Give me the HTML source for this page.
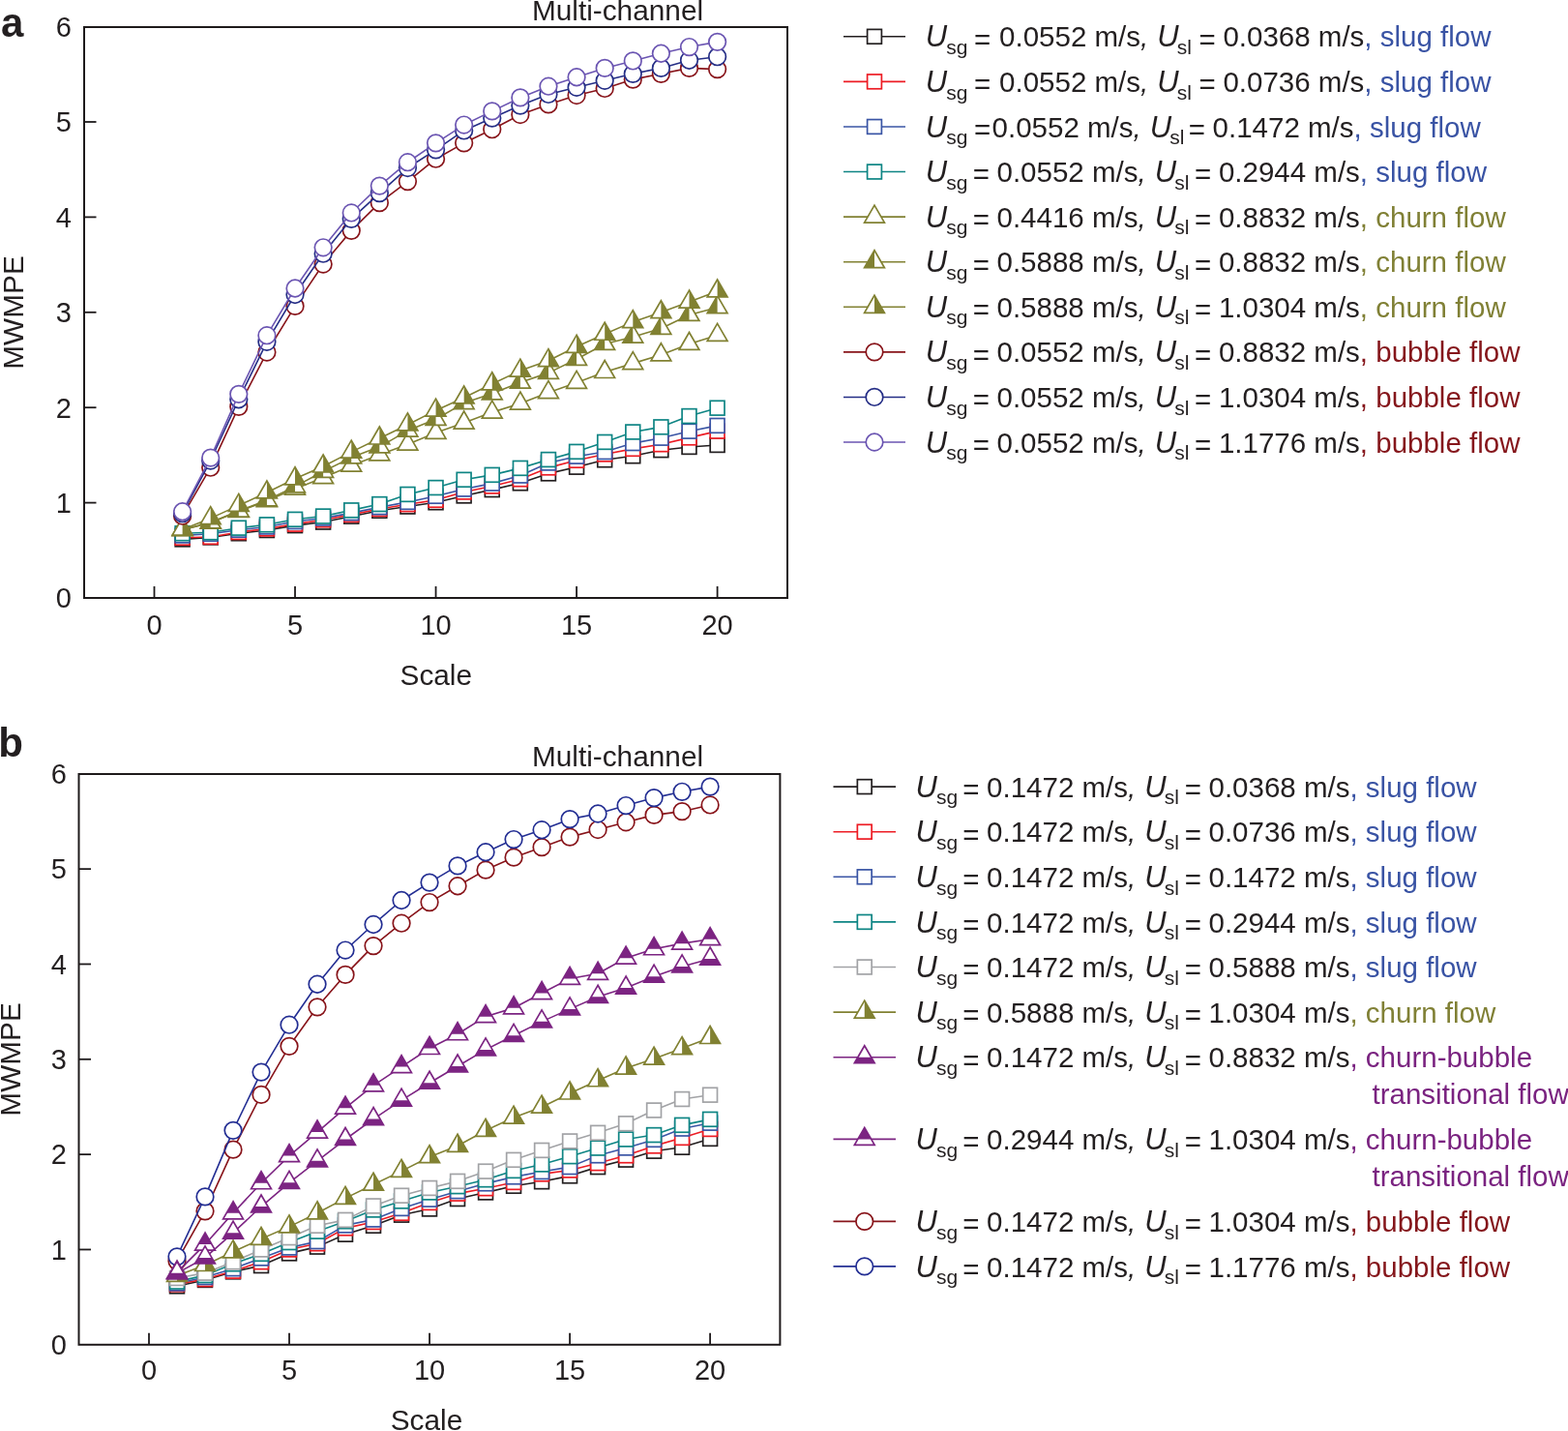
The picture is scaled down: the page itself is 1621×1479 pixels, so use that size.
<!DOCTYPE html>
<html><head><meta charset="utf-8"><title>MWMPE multi-channel</title>
<style>
html,body{margin:0;padding:0;background:#fff;}
svg{display:block;}
.t{font-family:'Liberation Sans', Arial, Helvetica, sans-serif;font-size:29px;fill:#231f20;}
.tl{font-family:'Liberation Sans', Arial, Helvetica, sans-serif;font-size:29.5px;fill:#231f20;}
.tx{font-family:'Liberation Sans', Arial, Helvetica, sans-serif;font-size:29.8px;fill:#231f20;}
.lt{font-family:'Liberation Sans', Arial, Helvetica, sans-serif;font-size:42px;font-weight:bold;fill:#231f20;}
</style></head>
<body>
<svg width="1621" height="1479" viewBox="0 0 1621 1479">
<rect width="1621" height="1479" fill="#fff"/>
<rect x="87.0" y="28.0" width="727" height="590" fill="none" stroke="#1e1a1b" stroke-width="2"/>
<line x1="87.0" y1="519.6" x2="99.5" y2="519.6" stroke="#1e1a1b" stroke-width="1.8"/>
<line x1="87.0" y1="421.2" x2="99.5" y2="421.2" stroke="#1e1a1b" stroke-width="1.8"/>
<line x1="87.0" y1="322.8" x2="99.5" y2="322.8" stroke="#1e1a1b" stroke-width="1.8"/>
<line x1="87.0" y1="224.4" x2="99.5" y2="224.4" stroke="#1e1a1b" stroke-width="1.8"/>
<line x1="87.0" y1="126" x2="99.5" y2="126" stroke="#1e1a1b" stroke-width="1.8"/>
<line x1="159.5" y1="618.0" x2="159.5" y2="606" stroke="#1e1a1b" stroke-width="1.8"/>
<line x1="305.02" y1="618.0" x2="305.02" y2="606" stroke="#1e1a1b" stroke-width="1.8"/>
<line x1="450.55" y1="618.0" x2="450.55" y2="606" stroke="#1e1a1b" stroke-width="1.8"/>
<line x1="596.08" y1="618.0" x2="596.08" y2="606" stroke="#1e1a1b" stroke-width="1.8"/>
<line x1="741.6" y1="618.0" x2="741.6" y2="606" stroke="#1e1a1b" stroke-width="1.8"/>
<text x="74.0" y="628.3" text-anchor="end" class="t">0</text>
<text x="74.0" y="529.9" text-anchor="end" class="t">1</text>
<text x="74.0" y="431.5" text-anchor="end" class="t">2</text>
<text x="74.0" y="333.1" text-anchor="end" class="t">3</text>
<text x="74.0" y="234.7" text-anchor="end" class="t">4</text>
<text x="74.0" y="136.3" text-anchor="end" class="t">5</text>
<text x="74.0" y="37.9" text-anchor="end" class="t">6</text>
<text x="159.5" y="655.9" text-anchor="middle" class="t">0</text>
<text x="305.02" y="655.9" text-anchor="middle" class="t">5</text>
<text x="450.55" y="655.9" text-anchor="middle" class="t">10</text>
<text x="596.08" y="655.9" text-anchor="middle" class="t">15</text>
<text x="741.6" y="655.9" text-anchor="middle" class="t">20</text>
<text x="450.8" y="707.8" text-anchor="middle" class="tx">Scale</text>
<text transform="translate(24.4,323) rotate(-90)" text-anchor="middle" class="tx">MWMPE</text>
<text x="638.5" y="21.2" text-anchor="middle" class="tx">Multi-channel</text>
<text x="1" y="37.6" class="lt">a</text>
<polyline points="188.6,557.39 217.71,555.42 246.81,551.28 275.92,548.04 305.02,543.12 334.13,539.58 363.24,533.67 392.34,527.77 421.44,523.54 450.55,519.3 479.66,512.42 508.76,506.12 537.87,499.33 566.97,489.39 596.08,482.7 625.18,475.32 654.29,471.29 683.39,465.18 712.5,461.94 741.6,459.97" fill="none" stroke="#231f20" stroke-width="1.6" stroke-linejoin="round"/>
<rect x="181.2" y="549.99" width="14.8" height="14.8" fill="#fff" stroke="#231f20" stroke-width="1.7"/>
<rect x="210.31" y="548.02" width="14.8" height="14.8" fill="#fff" stroke="#231f20" stroke-width="1.7"/>
<rect x="239.41" y="543.88" width="14.8" height="14.8" fill="#fff" stroke="#231f20" stroke-width="1.7"/>
<rect x="268.52" y="540.64" width="14.8" height="14.8" fill="#fff" stroke="#231f20" stroke-width="1.7"/>
<rect x="297.62" y="535.72" width="14.8" height="14.8" fill="#fff" stroke="#231f20" stroke-width="1.7"/>
<rect x="326.73" y="532.18" width="14.8" height="14.8" fill="#fff" stroke="#231f20" stroke-width="1.7"/>
<rect x="355.84" y="526.27" width="14.8" height="14.8" fill="#fff" stroke="#231f20" stroke-width="1.7"/>
<rect x="384.94" y="520.37" width="14.8" height="14.8" fill="#fff" stroke="#231f20" stroke-width="1.7"/>
<rect x="414.05" y="516.14" width="14.8" height="14.8" fill="#fff" stroke="#231f20" stroke-width="1.7"/>
<rect x="443.15" y="511.9" width="14.8" height="14.8" fill="#fff" stroke="#231f20" stroke-width="1.7"/>
<rect x="472.26" y="505.02" width="14.8" height="14.8" fill="#fff" stroke="#231f20" stroke-width="1.7"/>
<rect x="501.36" y="498.72" width="14.8" height="14.8" fill="#fff" stroke="#231f20" stroke-width="1.7"/>
<rect x="530.47" y="491.93" width="14.8" height="14.8" fill="#fff" stroke="#231f20" stroke-width="1.7"/>
<rect x="559.57" y="481.99" width="14.8" height="14.8" fill="#fff" stroke="#231f20" stroke-width="1.7"/>
<rect x="588.68" y="475.3" width="14.8" height="14.8" fill="#fff" stroke="#231f20" stroke-width="1.7"/>
<rect x="617.78" y="467.92" width="14.8" height="14.8" fill="#fff" stroke="#231f20" stroke-width="1.7"/>
<rect x="646.89" y="463.89" width="14.8" height="14.8" fill="#fff" stroke="#231f20" stroke-width="1.7"/>
<rect x="675.99" y="457.78" width="14.8" height="14.8" fill="#fff" stroke="#231f20" stroke-width="1.7"/>
<rect x="705.1" y="454.54" width="14.8" height="14.8" fill="#fff" stroke="#231f20" stroke-width="1.7"/>
<rect x="734.2" y="452.57" width="14.8" height="14.8" fill="#fff" stroke="#231f20" stroke-width="1.7"/>
<polyline points="188.6,555.81 217.71,554.93 246.81,550.01 275.92,546.46 305.02,541.64 334.13,537.31 363.24,531.9 392.34,526 421.44,521.17 450.55,516.84 479.66,508.48 508.76,502.48 537.87,495.3 566.97,483.39 596.08,475.81 625.18,469.42 654.29,463.91 683.39,459.28 712.5,452.39 741.6,445.6" fill="none" stroke="#ed1c24" stroke-width="1.6" stroke-linejoin="round"/>
<rect x="181.2" y="548.41" width="14.8" height="14.8" fill="#fff" stroke="#ed1c24" stroke-width="1.7"/>
<rect x="210.31" y="547.53" width="14.8" height="14.8" fill="#fff" stroke="#ed1c24" stroke-width="1.7"/>
<rect x="239.41" y="542.61" width="14.8" height="14.8" fill="#fff" stroke="#ed1c24" stroke-width="1.7"/>
<rect x="268.52" y="539.06" width="14.8" height="14.8" fill="#fff" stroke="#ed1c24" stroke-width="1.7"/>
<rect x="297.62" y="534.24" width="14.8" height="14.8" fill="#fff" stroke="#ed1c24" stroke-width="1.7"/>
<rect x="326.73" y="529.91" width="14.8" height="14.8" fill="#fff" stroke="#ed1c24" stroke-width="1.7"/>
<rect x="355.84" y="524.5" width="14.8" height="14.8" fill="#fff" stroke="#ed1c24" stroke-width="1.7"/>
<rect x="384.94" y="518.6" width="14.8" height="14.8" fill="#fff" stroke="#ed1c24" stroke-width="1.7"/>
<rect x="414.05" y="513.77" width="14.8" height="14.8" fill="#fff" stroke="#ed1c24" stroke-width="1.7"/>
<rect x="443.15" y="509.44" width="14.8" height="14.8" fill="#fff" stroke="#ed1c24" stroke-width="1.7"/>
<rect x="472.26" y="501.08" width="14.8" height="14.8" fill="#fff" stroke="#ed1c24" stroke-width="1.7"/>
<rect x="501.36" y="495.08" width="14.8" height="14.8" fill="#fff" stroke="#ed1c24" stroke-width="1.7"/>
<rect x="530.47" y="487.9" width="14.8" height="14.8" fill="#fff" stroke="#ed1c24" stroke-width="1.7"/>
<rect x="559.57" y="475.99" width="14.8" height="14.8" fill="#fff" stroke="#ed1c24" stroke-width="1.7"/>
<rect x="588.68" y="468.41" width="14.8" height="14.8" fill="#fff" stroke="#ed1c24" stroke-width="1.7"/>
<rect x="617.78" y="462.02" width="14.8" height="14.8" fill="#fff" stroke="#ed1c24" stroke-width="1.7"/>
<rect x="646.89" y="456.51" width="14.8" height="14.8" fill="#fff" stroke="#ed1c24" stroke-width="1.7"/>
<rect x="675.99" y="451.88" width="14.8" height="14.8" fill="#fff" stroke="#ed1c24" stroke-width="1.7"/>
<rect x="705.1" y="444.99" width="14.8" height="14.8" fill="#fff" stroke="#ed1c24" stroke-width="1.7"/>
<rect x="734.2" y="438.2" width="14.8" height="14.8" fill="#fff" stroke="#ed1c24" stroke-width="1.7"/>
<polyline points="188.6,553.45 217.71,551.78 246.81,547.74 275.92,544.5 305.02,539.08 334.13,535.54 363.24,530.13 392.34,524.22 421.44,518.91 450.55,512.81 479.66,505.53 508.76,499.62 537.87,491.56 566.97,478.47 596.08,471.68 625.18,467.05 654.29,458.1 683.39,452.69 712.5,445.7 741.6,439.9" fill="none" stroke="#3a55a5" stroke-width="1.6" stroke-linejoin="round"/>
<rect x="181.2" y="546.05" width="14.8" height="14.8" fill="#fff" stroke="#3a55a5" stroke-width="1.7"/>
<rect x="210.31" y="544.38" width="14.8" height="14.8" fill="#fff" stroke="#3a55a5" stroke-width="1.7"/>
<rect x="239.41" y="540.34" width="14.8" height="14.8" fill="#fff" stroke="#3a55a5" stroke-width="1.7"/>
<rect x="268.52" y="537.1" width="14.8" height="14.8" fill="#fff" stroke="#3a55a5" stroke-width="1.7"/>
<rect x="297.62" y="531.68" width="14.8" height="14.8" fill="#fff" stroke="#3a55a5" stroke-width="1.7"/>
<rect x="326.73" y="528.14" width="14.8" height="14.8" fill="#fff" stroke="#3a55a5" stroke-width="1.7"/>
<rect x="355.84" y="522.73" width="14.8" height="14.8" fill="#fff" stroke="#3a55a5" stroke-width="1.7"/>
<rect x="384.94" y="516.82" width="14.8" height="14.8" fill="#fff" stroke="#3a55a5" stroke-width="1.7"/>
<rect x="414.05" y="511.51" width="14.8" height="14.8" fill="#fff" stroke="#3a55a5" stroke-width="1.7"/>
<rect x="443.15" y="505.41" width="14.8" height="14.8" fill="#fff" stroke="#3a55a5" stroke-width="1.7"/>
<rect x="472.26" y="498.13" width="14.8" height="14.8" fill="#fff" stroke="#3a55a5" stroke-width="1.7"/>
<rect x="501.36" y="492.22" width="14.8" height="14.8" fill="#fff" stroke="#3a55a5" stroke-width="1.7"/>
<rect x="530.47" y="484.16" width="14.8" height="14.8" fill="#fff" stroke="#3a55a5" stroke-width="1.7"/>
<rect x="559.57" y="471.07" width="14.8" height="14.8" fill="#fff" stroke="#3a55a5" stroke-width="1.7"/>
<rect x="588.68" y="464.28" width="14.8" height="14.8" fill="#fff" stroke="#3a55a5" stroke-width="1.7"/>
<rect x="617.78" y="459.65" width="14.8" height="14.8" fill="#fff" stroke="#3a55a5" stroke-width="1.7"/>
<rect x="646.89" y="450.7" width="14.8" height="14.8" fill="#fff" stroke="#3a55a5" stroke-width="1.7"/>
<rect x="675.99" y="445.29" width="14.8" height="14.8" fill="#fff" stroke="#3a55a5" stroke-width="1.7"/>
<rect x="705.1" y="438.3" width="14.8" height="14.8" fill="#fff" stroke="#3a55a5" stroke-width="1.7"/>
<rect x="734.2" y="432.5" width="14.8" height="14.8" fill="#fff" stroke="#3a55a5" stroke-width="1.7"/>
<polyline points="188.6,551.28 217.71,550.3 246.81,545.68 275.92,542.33 305.02,536.82 334.13,533.57 363.24,527.37 392.34,521.08 421.44,510.94 450.55,504.05 479.66,495.79 508.76,490.87 537.87,483.88 566.97,475.02 596.08,466.86 625.18,456.92 654.29,446.49 683.39,441.37 712.5,430.06 741.6,421.69" fill="none" stroke="#0e8584" stroke-width="1.6" stroke-linejoin="round"/>
<rect x="181.2" y="543.88" width="14.8" height="14.8" fill="#fff" stroke="#0e8584" stroke-width="1.7"/>
<rect x="210.31" y="542.9" width="14.8" height="14.8" fill="#fff" stroke="#0e8584" stroke-width="1.7"/>
<rect x="239.41" y="538.28" width="14.8" height="14.8" fill="#fff" stroke="#0e8584" stroke-width="1.7"/>
<rect x="268.52" y="534.93" width="14.8" height="14.8" fill="#fff" stroke="#0e8584" stroke-width="1.7"/>
<rect x="297.62" y="529.42" width="14.8" height="14.8" fill="#fff" stroke="#0e8584" stroke-width="1.7"/>
<rect x="326.73" y="526.17" width="14.8" height="14.8" fill="#fff" stroke="#0e8584" stroke-width="1.7"/>
<rect x="355.84" y="519.97" width="14.8" height="14.8" fill="#fff" stroke="#0e8584" stroke-width="1.7"/>
<rect x="384.94" y="513.68" width="14.8" height="14.8" fill="#fff" stroke="#0e8584" stroke-width="1.7"/>
<rect x="414.05" y="503.54" width="14.8" height="14.8" fill="#fff" stroke="#0e8584" stroke-width="1.7"/>
<rect x="443.15" y="496.65" width="14.8" height="14.8" fill="#fff" stroke="#0e8584" stroke-width="1.7"/>
<rect x="472.26" y="488.39" width="14.8" height="14.8" fill="#fff" stroke="#0e8584" stroke-width="1.7"/>
<rect x="501.36" y="483.47" width="14.8" height="14.8" fill="#fff" stroke="#0e8584" stroke-width="1.7"/>
<rect x="530.47" y="476.48" width="14.8" height="14.8" fill="#fff" stroke="#0e8584" stroke-width="1.7"/>
<rect x="559.57" y="467.62" width="14.8" height="14.8" fill="#fff" stroke="#0e8584" stroke-width="1.7"/>
<rect x="588.68" y="459.46" width="14.8" height="14.8" fill="#fff" stroke="#0e8584" stroke-width="1.7"/>
<rect x="617.78" y="449.52" width="14.8" height="14.8" fill="#fff" stroke="#0e8584" stroke-width="1.7"/>
<rect x="646.89" y="439.09" width="14.8" height="14.8" fill="#fff" stroke="#0e8584" stroke-width="1.7"/>
<rect x="675.99" y="433.97" width="14.8" height="14.8" fill="#fff" stroke="#0e8584" stroke-width="1.7"/>
<rect x="705.1" y="422.66" width="14.8" height="14.8" fill="#fff" stroke="#0e8584" stroke-width="1.7"/>
<rect x="734.2" y="414.29" width="14.8" height="14.8" fill="#fff" stroke="#0e8584" stroke-width="1.7"/>
<polyline points="188.6,547.64 217.71,540.26 246.81,528.46 275.92,517.63 305.02,505.14 334.13,493.72 363.24,481.22 392.34,469.91 421.44,459.18 450.55,447.28 479.66,437.04 508.76,426.12 537.87,417.07 566.97,405.65 596.08,395.42 625.18,384.5 654.29,375.64 683.39,366.78 712.5,355.47 741.6,346.42" fill="none" stroke="#818132" stroke-width="1.6" stroke-linejoin="round"/>
<polygon points="188.6,535.64 178.2,553.64 199,553.64" fill="#fff"/><polygon points="188.6,535.64 178.2,553.64 199,553.64" fill="none" stroke="#818132" stroke-width="1.7" stroke-linejoin="miter"/>
<polygon points="217.71,528.26 207.31,546.26 228.11,546.26" fill="#fff"/><polygon points="217.71,528.26 207.31,546.26 228.11,546.26" fill="none" stroke="#818132" stroke-width="1.7" stroke-linejoin="miter"/>
<polygon points="246.81,516.46 236.41,534.46 257.21,534.46" fill="#fff"/><polygon points="246.81,516.46 236.41,534.46 257.21,534.46" fill="none" stroke="#818132" stroke-width="1.7" stroke-linejoin="miter"/>
<polygon points="275.92,505.63 265.52,523.63 286.32,523.63" fill="#fff"/><polygon points="275.92,505.63 265.52,523.63 286.32,523.63" fill="none" stroke="#818132" stroke-width="1.7" stroke-linejoin="miter"/>
<polygon points="305.02,493.14 294.62,511.14 315.42,511.14" fill="#fff"/><polygon points="305.02,493.14 294.62,511.14 315.42,511.14" fill="none" stroke="#818132" stroke-width="1.7" stroke-linejoin="miter"/>
<polygon points="334.13,481.72 323.73,499.72 344.53,499.72" fill="#fff"/><polygon points="334.13,481.72 323.73,499.72 344.53,499.72" fill="none" stroke="#818132" stroke-width="1.7" stroke-linejoin="miter"/>
<polygon points="363.24,469.22 352.84,487.22 373.63,487.22" fill="#fff"/><polygon points="363.24,469.22 352.84,487.22 373.63,487.22" fill="none" stroke="#818132" stroke-width="1.7" stroke-linejoin="miter"/>
<polygon points="392.34,457.91 381.94,475.91 402.74,475.91" fill="#fff"/><polygon points="392.34,457.91 381.94,475.91 402.74,475.91" fill="none" stroke="#818132" stroke-width="1.7" stroke-linejoin="miter"/>
<polygon points="421.44,447.18 411.05,465.18 431.84,465.18" fill="#fff"/><polygon points="421.44,447.18 411.05,465.18 431.84,465.18" fill="none" stroke="#818132" stroke-width="1.7" stroke-linejoin="miter"/>
<polygon points="450.55,435.28 440.15,453.28 460.95,453.28" fill="#fff"/><polygon points="450.55,435.28 440.15,453.28 460.95,453.28" fill="none" stroke="#818132" stroke-width="1.7" stroke-linejoin="miter"/>
<polygon points="479.66,425.04 469.26,443.04 490.06,443.04" fill="#fff"/><polygon points="479.66,425.04 469.26,443.04 490.06,443.04" fill="none" stroke="#818132" stroke-width="1.7" stroke-linejoin="miter"/>
<polygon points="508.76,414.12 498.36,432.12 519.16,432.12" fill="#fff"/><polygon points="508.76,414.12 498.36,432.12 519.16,432.12" fill="none" stroke="#818132" stroke-width="1.7" stroke-linejoin="miter"/>
<polygon points="537.87,405.07 527.47,423.07 548.26,423.07" fill="#fff"/><polygon points="537.87,405.07 527.47,423.07 548.26,423.07" fill="none" stroke="#818132" stroke-width="1.7" stroke-linejoin="miter"/>
<polygon points="566.97,393.65 556.57,411.65 577.37,411.65" fill="#fff"/><polygon points="566.97,393.65 556.57,411.65 577.37,411.65" fill="none" stroke="#818132" stroke-width="1.7" stroke-linejoin="miter"/>
<polygon points="596.08,383.42 585.68,401.42 606.48,401.42" fill="#fff"/><polygon points="596.08,383.42 585.68,401.42 606.48,401.42" fill="none" stroke="#818132" stroke-width="1.7" stroke-linejoin="miter"/>
<polygon points="625.18,372.5 614.78,390.5 635.58,390.5" fill="#fff"/><polygon points="625.18,372.5 614.78,390.5 635.58,390.5" fill="none" stroke="#818132" stroke-width="1.7" stroke-linejoin="miter"/>
<polygon points="654.29,363.64 643.89,381.64 664.69,381.64" fill="#fff"/><polygon points="654.29,363.64 643.89,381.64 664.69,381.64" fill="none" stroke="#818132" stroke-width="1.7" stroke-linejoin="miter"/>
<polygon points="683.39,354.78 672.99,372.78 693.79,372.78" fill="#fff"/><polygon points="683.39,354.78 672.99,372.78 693.79,372.78" fill="none" stroke="#818132" stroke-width="1.7" stroke-linejoin="miter"/>
<polygon points="712.5,343.47 702.1,361.47 722.89,361.47" fill="#fff"/><polygon points="712.5,343.47 702.1,361.47 722.89,361.47" fill="none" stroke="#818132" stroke-width="1.7" stroke-linejoin="miter"/>
<polygon points="741.6,334.42 731.2,352.42 752,352.42" fill="#fff"/><polygon points="741.6,334.42 731.2,352.42 752,352.42" fill="none" stroke="#818132" stroke-width="1.7" stroke-linejoin="miter"/>
<polyline points="188.6,547.45 217.71,539.97 246.81,528.06 275.92,516.94 305.02,502.87 334.13,487.32 363.24,472.86 392.34,461.84 421.44,445.11 450.55,433.3 479.66,416.58 508.76,406.83 537.87,395.22 566.97,385.38 596.08,371.31 625.18,355.47 654.29,348.19 683.39,339.43 712.5,325.46 741.6,317.68" fill="none" stroke="#818132" stroke-width="1.6" stroke-linejoin="round"/>
<polygon points="188.6,535.45 178.2,553.45 199,553.45" fill="#fff"/><polygon points="188.6,535.45 178.2,553.45 188.6,553.45" fill="#818132"/><polygon points="188.6,535.45 178.2,553.45 199,553.45" fill="none" stroke="#818132" stroke-width="1.7" stroke-linejoin="miter"/>
<polygon points="217.71,527.97 207.31,545.97 228.11,545.97" fill="#fff"/><polygon points="217.71,527.97 207.31,545.97 217.71,545.97" fill="#818132"/><polygon points="217.71,527.97 207.31,545.97 228.11,545.97" fill="none" stroke="#818132" stroke-width="1.7" stroke-linejoin="miter"/>
<polygon points="246.81,516.06 236.41,534.06 257.21,534.06" fill="#fff"/><polygon points="246.81,516.06 236.41,534.06 246.81,534.06" fill="#818132"/><polygon points="246.81,516.06 236.41,534.06 257.21,534.06" fill="none" stroke="#818132" stroke-width="1.7" stroke-linejoin="miter"/>
<polygon points="275.92,504.94 265.52,522.94 286.32,522.94" fill="#fff"/><polygon points="275.92,504.94 265.52,522.94 275.92,522.94" fill="#818132"/><polygon points="275.92,504.94 265.52,522.94 286.32,522.94" fill="none" stroke="#818132" stroke-width="1.7" stroke-linejoin="miter"/>
<polygon points="305.02,490.87 294.62,508.87 315.42,508.87" fill="#fff"/><polygon points="305.02,490.87 294.62,508.87 305.02,508.87" fill="#818132"/><polygon points="305.02,490.87 294.62,508.87 315.42,508.87" fill="none" stroke="#818132" stroke-width="1.7" stroke-linejoin="miter"/>
<polygon points="334.13,475.32 323.73,493.32 344.53,493.32" fill="#fff"/><polygon points="334.13,475.32 323.73,493.32 334.13,493.32" fill="#818132"/><polygon points="334.13,475.32 323.73,493.32 344.53,493.32" fill="none" stroke="#818132" stroke-width="1.7" stroke-linejoin="miter"/>
<polygon points="363.24,460.86 352.84,478.86 373.63,478.86" fill="#fff"/><polygon points="363.24,460.86 352.84,478.86 363.24,478.86" fill="#818132"/><polygon points="363.24,460.86 352.84,478.86 373.63,478.86" fill="none" stroke="#818132" stroke-width="1.7" stroke-linejoin="miter"/>
<polygon points="392.34,449.84 381.94,467.84 402.74,467.84" fill="#fff"/><polygon points="392.34,449.84 381.94,467.84 392.34,467.84" fill="#818132"/><polygon points="392.34,449.84 381.94,467.84 402.74,467.84" fill="none" stroke="#818132" stroke-width="1.7" stroke-linejoin="miter"/>
<polygon points="421.44,433.11 411.05,451.11 431.84,451.11" fill="#fff"/><polygon points="421.44,433.11 411.05,451.11 421.44,451.11" fill="#818132"/><polygon points="421.44,433.11 411.05,451.11 431.84,451.11" fill="none" stroke="#818132" stroke-width="1.7" stroke-linejoin="miter"/>
<polygon points="450.55,421.3 440.15,439.3 460.95,439.3" fill="#fff"/><polygon points="450.55,421.3 440.15,439.3 450.55,439.3" fill="#818132"/><polygon points="450.55,421.3 440.15,439.3 460.95,439.3" fill="none" stroke="#818132" stroke-width="1.7" stroke-linejoin="miter"/>
<polygon points="479.66,404.58 469.26,422.58 490.06,422.58" fill="#fff"/><polygon points="479.66,404.58 469.26,422.58 479.66,422.58" fill="#818132"/><polygon points="479.66,404.58 469.26,422.58 490.06,422.58" fill="none" stroke="#818132" stroke-width="1.7" stroke-linejoin="miter"/>
<polygon points="508.76,394.83 498.36,412.83 519.16,412.83" fill="#fff"/><polygon points="508.76,394.83 498.36,412.83 508.76,412.83" fill="#818132"/><polygon points="508.76,394.83 498.36,412.83 519.16,412.83" fill="none" stroke="#818132" stroke-width="1.7" stroke-linejoin="miter"/>
<polygon points="537.87,383.22 527.47,401.22 548.26,401.22" fill="#fff"/><polygon points="537.87,383.22 527.47,401.22 537.87,401.22" fill="#818132"/><polygon points="537.87,383.22 527.47,401.22 548.26,401.22" fill="none" stroke="#818132" stroke-width="1.7" stroke-linejoin="miter"/>
<polygon points="566.97,373.38 556.57,391.38 577.37,391.38" fill="#fff"/><polygon points="566.97,373.38 556.57,391.38 566.97,391.38" fill="#818132"/><polygon points="566.97,373.38 556.57,391.38 577.37,391.38" fill="none" stroke="#818132" stroke-width="1.7" stroke-linejoin="miter"/>
<polygon points="596.08,359.31 585.68,377.31 606.48,377.31" fill="#fff"/><polygon points="596.08,359.31 585.68,377.31 596.08,377.31" fill="#818132"/><polygon points="596.08,359.31 585.68,377.31 606.48,377.31" fill="none" stroke="#818132" stroke-width="1.7" stroke-linejoin="miter"/>
<polygon points="625.18,343.47 614.78,361.47 635.58,361.47" fill="#fff"/><polygon points="625.18,343.47 614.78,361.47 625.18,361.47" fill="#818132"/><polygon points="625.18,343.47 614.78,361.47 635.58,361.47" fill="none" stroke="#818132" stroke-width="1.7" stroke-linejoin="miter"/>
<polygon points="654.29,336.19 643.89,354.19 664.69,354.19" fill="#fff"/><polygon points="654.29,336.19 643.89,354.19 654.29,354.19" fill="#818132"/><polygon points="654.29,336.19 643.89,354.19 664.69,354.19" fill="none" stroke="#818132" stroke-width="1.7" stroke-linejoin="miter"/>
<polygon points="683.39,327.43 672.99,345.43 693.79,345.43" fill="#fff"/><polygon points="683.39,327.43 672.99,345.43 683.39,345.43" fill="#818132"/><polygon points="683.39,327.43 672.99,345.43 693.79,345.43" fill="none" stroke="#818132" stroke-width="1.7" stroke-linejoin="miter"/>
<polygon points="712.5,313.46 702.1,331.46 722.89,331.46" fill="#fff"/><polygon points="712.5,313.46 702.1,331.46 712.5,331.46" fill="#818132"/><polygon points="712.5,313.46 702.1,331.46 722.89,331.46" fill="none" stroke="#818132" stroke-width="1.7" stroke-linejoin="miter"/>
<polygon points="741.6,305.68 731.2,323.68 752,323.68" fill="#fff"/><polygon points="741.6,305.68 731.2,323.68 741.6,323.68" fill="#818132"/><polygon points="741.6,305.68 731.2,323.68 752,323.68" fill="none" stroke="#818132" stroke-width="1.7" stroke-linejoin="miter"/>
<polyline points="188.6,547.15 217.71,535.64 246.81,522.36 275.92,508.97 305.02,494.8 334.13,482.01 363.24,467.15 392.34,452.98 421.44,438.91 450.55,424.15 479.66,410.97 508.76,396.8 537.87,383.12 566.97,372.69 596.08,358.32 625.18,345.24 654.29,332.64 683.39,322.7 712.5,312.07 741.6,300.96" fill="none" stroke="#818132" stroke-width="1.6" stroke-linejoin="round"/>
<polygon points="188.6,535.15 178.2,553.15 199,553.15" fill="#fff"/><polygon points="188.6,535.15 188.6,553.15 199,553.15" fill="#818132"/><polygon points="188.6,535.15 178.2,553.15 199,553.15" fill="none" stroke="#818132" stroke-width="1.7" stroke-linejoin="miter"/>
<polygon points="217.71,523.64 207.31,541.64 228.11,541.64" fill="#fff"/><polygon points="217.71,523.64 217.71,541.64 228.11,541.64" fill="#818132"/><polygon points="217.71,523.64 207.31,541.64 228.11,541.64" fill="none" stroke="#818132" stroke-width="1.7" stroke-linejoin="miter"/>
<polygon points="246.81,510.36 236.41,528.36 257.21,528.36" fill="#fff"/><polygon points="246.81,510.36 246.81,528.36 257.21,528.36" fill="#818132"/><polygon points="246.81,510.36 236.41,528.36 257.21,528.36" fill="none" stroke="#818132" stroke-width="1.7" stroke-linejoin="miter"/>
<polygon points="275.92,496.97 265.52,514.97 286.32,514.97" fill="#fff"/><polygon points="275.92,496.97 275.92,514.97 286.32,514.97" fill="#818132"/><polygon points="275.92,496.97 265.52,514.97 286.32,514.97" fill="none" stroke="#818132" stroke-width="1.7" stroke-linejoin="miter"/>
<polygon points="305.02,482.8 294.62,500.8 315.42,500.8" fill="#fff"/><polygon points="305.02,482.8 305.02,500.8 315.42,500.8" fill="#818132"/><polygon points="305.02,482.8 294.62,500.8 315.42,500.8" fill="none" stroke="#818132" stroke-width="1.7" stroke-linejoin="miter"/>
<polygon points="334.13,470.01 323.73,488.01 344.53,488.01" fill="#fff"/><polygon points="334.13,470.01 334.13,488.01 344.53,488.01" fill="#818132"/><polygon points="334.13,470.01 323.73,488.01 344.53,488.01" fill="none" stroke="#818132" stroke-width="1.7" stroke-linejoin="miter"/>
<polygon points="363.24,455.15 352.84,473.15 373.63,473.15" fill="#fff"/><polygon points="363.24,455.15 363.24,473.15 373.63,473.15" fill="#818132"/><polygon points="363.24,455.15 352.84,473.15 373.63,473.15" fill="none" stroke="#818132" stroke-width="1.7" stroke-linejoin="miter"/>
<polygon points="392.34,440.98 381.94,458.98 402.74,458.98" fill="#fff"/><polygon points="392.34,440.98 392.34,458.98 402.74,458.98" fill="#818132"/><polygon points="392.34,440.98 381.94,458.98 402.74,458.98" fill="none" stroke="#818132" stroke-width="1.7" stroke-linejoin="miter"/>
<polygon points="421.44,426.91 411.05,444.91 431.84,444.91" fill="#fff"/><polygon points="421.44,426.91 421.44,444.91 431.84,444.91" fill="#818132"/><polygon points="421.44,426.91 411.05,444.91 431.84,444.91" fill="none" stroke="#818132" stroke-width="1.7" stroke-linejoin="miter"/>
<polygon points="450.55,412.15 440.15,430.15 460.95,430.15" fill="#fff"/><polygon points="450.55,412.15 450.55,430.15 460.95,430.15" fill="#818132"/><polygon points="450.55,412.15 440.15,430.15 460.95,430.15" fill="none" stroke="#818132" stroke-width="1.7" stroke-linejoin="miter"/>
<polygon points="479.66,398.97 469.26,416.97 490.06,416.97" fill="#fff"/><polygon points="479.66,398.97 479.66,416.97 490.06,416.97" fill="#818132"/><polygon points="479.66,398.97 469.26,416.97 490.06,416.97" fill="none" stroke="#818132" stroke-width="1.7" stroke-linejoin="miter"/>
<polygon points="508.76,384.8 498.36,402.8 519.16,402.8" fill="#fff"/><polygon points="508.76,384.8 508.76,402.8 519.16,402.8" fill="#818132"/><polygon points="508.76,384.8 498.36,402.8 519.16,402.8" fill="none" stroke="#818132" stroke-width="1.7" stroke-linejoin="miter"/>
<polygon points="537.87,371.12 527.47,389.12 548.26,389.12" fill="#fff"/><polygon points="537.87,371.12 537.87,389.12 548.26,389.12" fill="#818132"/><polygon points="537.87,371.12 527.47,389.12 548.26,389.12" fill="none" stroke="#818132" stroke-width="1.7" stroke-linejoin="miter"/>
<polygon points="566.97,360.69 556.57,378.69 577.37,378.69" fill="#fff"/><polygon points="566.97,360.69 566.97,378.69 577.37,378.69" fill="#818132"/><polygon points="566.97,360.69 556.57,378.69 577.37,378.69" fill="none" stroke="#818132" stroke-width="1.7" stroke-linejoin="miter"/>
<polygon points="596.08,346.32 585.68,364.32 606.48,364.32" fill="#fff"/><polygon points="596.08,346.32 596.08,364.32 606.48,364.32" fill="#818132"/><polygon points="596.08,346.32 585.68,364.32 606.48,364.32" fill="none" stroke="#818132" stroke-width="1.7" stroke-linejoin="miter"/>
<polygon points="625.18,333.24 614.78,351.24 635.58,351.24" fill="#fff"/><polygon points="625.18,333.24 625.18,351.24 635.58,351.24" fill="#818132"/><polygon points="625.18,333.24 614.78,351.24 635.58,351.24" fill="none" stroke="#818132" stroke-width="1.7" stroke-linejoin="miter"/>
<polygon points="654.29,320.64 643.89,338.64 664.69,338.64" fill="#fff"/><polygon points="654.29,320.64 654.29,338.64 664.69,338.64" fill="#818132"/><polygon points="654.29,320.64 643.89,338.64 664.69,338.64" fill="none" stroke="#818132" stroke-width="1.7" stroke-linejoin="miter"/>
<polygon points="683.39,310.7 672.99,328.7 693.79,328.7" fill="#fff"/><polygon points="683.39,310.7 683.39,328.7 693.79,328.7" fill="#818132"/><polygon points="683.39,310.7 672.99,328.7 693.79,328.7" fill="none" stroke="#818132" stroke-width="1.7" stroke-linejoin="miter"/>
<polygon points="712.5,300.07 702.1,318.07 722.89,318.07" fill="#fff"/><polygon points="712.5,300.07 712.5,318.07 722.89,318.07" fill="#818132"/><polygon points="712.5,300.07 702.1,318.07 722.89,318.07" fill="none" stroke="#818132" stroke-width="1.7" stroke-linejoin="miter"/>
<polygon points="741.6,288.96 731.2,306.96 752,306.96" fill="#fff"/><polygon points="741.6,288.96 741.6,306.96 752,306.96" fill="#818132"/><polygon points="741.6,288.96 731.2,306.96 752,306.96" fill="none" stroke="#818132" stroke-width="1.7" stroke-linejoin="miter"/>
<polyline points="188.6,533.18 217.71,483.19 246.81,420.31 275.92,364.03 305.02,316.4 334.13,273.01 363.24,238.37 392.34,209.64 421.44,187.6 450.55,164.18 479.66,147.84 508.76,133.68 537.87,118.52 566.97,107.89 596.08,98.55 625.18,91.46 654.29,82.11 683.39,76.31 712.5,70.4 741.6,71.58" fill="none" stroke="#88141a" stroke-width="1.6" stroke-linejoin="round"/>
<circle cx="188.6" cy="533.18" r="8.8" fill="#fff" stroke="#88141a" stroke-width="1.7"/>
<circle cx="217.71" cy="483.19" r="8.8" fill="#fff" stroke="#88141a" stroke-width="1.7"/>
<circle cx="246.81" cy="420.31" r="8.8" fill="#fff" stroke="#88141a" stroke-width="1.7"/>
<circle cx="275.92" cy="364.03" r="8.8" fill="#fff" stroke="#88141a" stroke-width="1.7"/>
<circle cx="305.02" cy="316.4" r="8.8" fill="#fff" stroke="#88141a" stroke-width="1.7"/>
<circle cx="334.13" cy="273.01" r="8.8" fill="#fff" stroke="#88141a" stroke-width="1.7"/>
<circle cx="363.24" cy="238.37" r="8.8" fill="#fff" stroke="#88141a" stroke-width="1.7"/>
<circle cx="392.34" cy="209.64" r="8.8" fill="#fff" stroke="#88141a" stroke-width="1.7"/>
<circle cx="421.44" cy="187.6" r="8.8" fill="#fff" stroke="#88141a" stroke-width="1.7"/>
<circle cx="450.55" cy="164.18" r="8.8" fill="#fff" stroke="#88141a" stroke-width="1.7"/>
<circle cx="479.66" cy="147.84" r="8.8" fill="#fff" stroke="#88141a" stroke-width="1.7"/>
<circle cx="508.76" cy="133.68" r="8.8" fill="#fff" stroke="#88141a" stroke-width="1.7"/>
<circle cx="537.87" cy="118.52" r="8.8" fill="#fff" stroke="#88141a" stroke-width="1.7"/>
<circle cx="566.97" cy="107.89" r="8.8" fill="#fff" stroke="#88141a" stroke-width="1.7"/>
<circle cx="596.08" cy="98.55" r="8.8" fill="#fff" stroke="#88141a" stroke-width="1.7"/>
<circle cx="625.18" cy="91.46" r="8.8" fill="#fff" stroke="#88141a" stroke-width="1.7"/>
<circle cx="654.29" cy="82.11" r="8.8" fill="#fff" stroke="#88141a" stroke-width="1.7"/>
<circle cx="683.39" cy="76.31" r="8.8" fill="#fff" stroke="#88141a" stroke-width="1.7"/>
<circle cx="712.5" cy="70.4" r="8.8" fill="#fff" stroke="#88141a" stroke-width="1.7"/>
<circle cx="741.6" cy="71.58" r="8.8" fill="#fff" stroke="#88141a" stroke-width="1.7"/>
<polyline points="188.6,530.72 217.71,476.01 246.81,412.74 275.92,353.3 305.02,304.5 334.13,262.19 363.24,226.37 392.34,199.6 421.44,173.53 450.55,154.83 479.66,134.95 508.76,122.06 537.87,109.08 566.97,97.46 596.08,90.28 625.18,83.29 654.29,76.31 683.39,70.4 712.5,62.24 741.6,58.69" fill="none" stroke="#252e86" stroke-width="1.6" stroke-linejoin="round"/>
<circle cx="188.6" cy="530.72" r="8.8" fill="#fff" stroke="#252e86" stroke-width="1.7"/>
<circle cx="217.71" cy="476.01" r="8.8" fill="#fff" stroke="#252e86" stroke-width="1.7"/>
<circle cx="246.81" cy="412.74" r="8.8" fill="#fff" stroke="#252e86" stroke-width="1.7"/>
<circle cx="275.92" cy="353.3" r="8.8" fill="#fff" stroke="#252e86" stroke-width="1.7"/>
<circle cx="305.02" cy="304.5" r="8.8" fill="#fff" stroke="#252e86" stroke-width="1.7"/>
<circle cx="334.13" cy="262.19" r="8.8" fill="#fff" stroke="#252e86" stroke-width="1.7"/>
<circle cx="363.24" cy="226.37" r="8.8" fill="#fff" stroke="#252e86" stroke-width="1.7"/>
<circle cx="392.34" cy="199.6" r="8.8" fill="#fff" stroke="#252e86" stroke-width="1.7"/>
<circle cx="421.44" cy="173.53" r="8.8" fill="#fff" stroke="#252e86" stroke-width="1.7"/>
<circle cx="450.55" cy="154.83" r="8.8" fill="#fff" stroke="#252e86" stroke-width="1.7"/>
<circle cx="479.66" cy="134.95" r="8.8" fill="#fff" stroke="#252e86" stroke-width="1.7"/>
<circle cx="508.76" cy="122.06" r="8.8" fill="#fff" stroke="#252e86" stroke-width="1.7"/>
<circle cx="537.87" cy="109.08" r="8.8" fill="#fff" stroke="#252e86" stroke-width="1.7"/>
<circle cx="566.97" cy="97.46" r="8.8" fill="#fff" stroke="#252e86" stroke-width="1.7"/>
<circle cx="596.08" cy="90.28" r="8.8" fill="#fff" stroke="#252e86" stroke-width="1.7"/>
<circle cx="625.18" cy="83.29" r="8.8" fill="#fff" stroke="#252e86" stroke-width="1.7"/>
<circle cx="654.29" cy="76.31" r="8.8" fill="#fff" stroke="#252e86" stroke-width="1.7"/>
<circle cx="683.39" cy="70.4" r="8.8" fill="#fff" stroke="#252e86" stroke-width="1.7"/>
<circle cx="712.5" cy="62.24" r="8.8" fill="#fff" stroke="#252e86" stroke-width="1.7"/>
<circle cx="741.6" cy="58.69" r="8.8" fill="#fff" stroke="#252e86" stroke-width="1.7"/>
<polyline points="188.6,528.75 217.71,473.16 246.81,407.33 275.92,346.71 305.02,298 334.13,255.79 363.24,219.97 392.34,192.12 421.44,167.72 450.55,147.84 479.66,129.05 508.76,114.88 537.87,100.91 566.97,89.2 596.08,79.75 625.18,70.4 654.29,62.93 683.39,55.25 712.5,48.56 741.6,43.34" fill="none" stroke="#6b55b2" stroke-width="1.6" stroke-linejoin="round"/>
<circle cx="188.6" cy="528.75" r="8.8" fill="#fff" stroke="#6b55b2" stroke-width="1.7"/>
<circle cx="217.71" cy="473.16" r="8.8" fill="#fff" stroke="#6b55b2" stroke-width="1.7"/>
<circle cx="246.81" cy="407.33" r="8.8" fill="#fff" stroke="#6b55b2" stroke-width="1.7"/>
<circle cx="275.92" cy="346.71" r="8.8" fill="#fff" stroke="#6b55b2" stroke-width="1.7"/>
<circle cx="305.02" cy="298" r="8.8" fill="#fff" stroke="#6b55b2" stroke-width="1.7"/>
<circle cx="334.13" cy="255.79" r="8.8" fill="#fff" stroke="#6b55b2" stroke-width="1.7"/>
<circle cx="363.24" cy="219.97" r="8.8" fill="#fff" stroke="#6b55b2" stroke-width="1.7"/>
<circle cx="392.34" cy="192.12" r="8.8" fill="#fff" stroke="#6b55b2" stroke-width="1.7"/>
<circle cx="421.44" cy="167.72" r="8.8" fill="#fff" stroke="#6b55b2" stroke-width="1.7"/>
<circle cx="450.55" cy="147.84" r="8.8" fill="#fff" stroke="#6b55b2" stroke-width="1.7"/>
<circle cx="479.66" cy="129.05" r="8.8" fill="#fff" stroke="#6b55b2" stroke-width="1.7"/>
<circle cx="508.76" cy="114.88" r="8.8" fill="#fff" stroke="#6b55b2" stroke-width="1.7"/>
<circle cx="537.87" cy="100.91" r="8.8" fill="#fff" stroke="#6b55b2" stroke-width="1.7"/>
<circle cx="566.97" cy="89.2" r="8.8" fill="#fff" stroke="#6b55b2" stroke-width="1.7"/>
<circle cx="596.08" cy="79.75" r="8.8" fill="#fff" stroke="#6b55b2" stroke-width="1.7"/>
<circle cx="625.18" cy="70.4" r="8.8" fill="#fff" stroke="#6b55b2" stroke-width="1.7"/>
<circle cx="654.29" cy="62.93" r="8.8" fill="#fff" stroke="#6b55b2" stroke-width="1.7"/>
<circle cx="683.39" cy="55.25" r="8.8" fill="#fff" stroke="#6b55b2" stroke-width="1.7"/>
<circle cx="712.5" cy="48.56" r="8.8" fill="#fff" stroke="#6b55b2" stroke-width="1.7"/>
<circle cx="741.6" cy="43.34" r="8.8" fill="#fff" stroke="#6b55b2" stroke-width="1.7"/>
<rect x="81.5" y="800.0" width="724.9" height="589.8" fill="none" stroke="#1e1a1b" stroke-width="2"/>
<line x1="81.5" y1="1291.47" x2="94" y2="1291.47" stroke="#1e1a1b" stroke-width="1.8"/>
<line x1="81.5" y1="1193.14" x2="94" y2="1193.14" stroke="#1e1a1b" stroke-width="1.8"/>
<line x1="81.5" y1="1094.81" x2="94" y2="1094.81" stroke="#1e1a1b" stroke-width="1.8"/>
<line x1="81.5" y1="996.48" x2="94" y2="996.48" stroke="#1e1a1b" stroke-width="1.8"/>
<line x1="81.5" y1="898.15" x2="94" y2="898.15" stroke="#1e1a1b" stroke-width="1.8"/>
<line x1="154" y1="1389.8" x2="154" y2="1377.8" stroke="#1e1a1b" stroke-width="1.8"/>
<line x1="299.02" y1="1389.8" x2="299.02" y2="1377.8" stroke="#1e1a1b" stroke-width="1.8"/>
<line x1="444.05" y1="1389.8" x2="444.05" y2="1377.8" stroke="#1e1a1b" stroke-width="1.8"/>
<line x1="589.08" y1="1389.8" x2="589.08" y2="1377.8" stroke="#1e1a1b" stroke-width="1.8"/>
<line x1="734.1" y1="1389.8" x2="734.1" y2="1377.8" stroke="#1e1a1b" stroke-width="1.8"/>
<text x="68.8" y="1400.1" text-anchor="end" class="t">0</text>
<text x="68.8" y="1301.77" text-anchor="end" class="t">1</text>
<text x="68.8" y="1203.44" text-anchor="end" class="t">2</text>
<text x="68.8" y="1105.11" text-anchor="end" class="t">3</text>
<text x="68.8" y="1006.78" text-anchor="end" class="t">4</text>
<text x="68.8" y="908.45" text-anchor="end" class="t">5</text>
<text x="68.8" y="810.12" text-anchor="end" class="t">6</text>
<text x="154" y="1426.4" text-anchor="middle" class="t">0</text>
<text x="299.02" y="1426.4" text-anchor="middle" class="t">5</text>
<text x="444.05" y="1426.4" text-anchor="middle" class="t">10</text>
<text x="589.08" y="1426.4" text-anchor="middle" class="t">15</text>
<text x="734.1" y="1426.4" text-anchor="middle" class="t">20</text>
<text x="441" y="1478.3" text-anchor="middle" class="tx">Scale</text>
<text transform="translate(21.4,1094.9) rotate(-90)" text-anchor="middle" class="tx">MWMPE</text>
<text x="638.5" y="791.8" text-anchor="middle" class="tx">Multi-channel</text>
<text x="-1.8" y="781.6" class="lt">b</text>
<polyline points="183,1329.33 212.01,1322.94 241.02,1314.38 270.02,1308.09 299.02,1295.4 328.03,1288.62 357.04,1275.74 386.04,1266.79 415.05,1255.68 444.05,1249.48 473.06,1239.06 502.06,1232.47 531.07,1225.79 560.07,1221.26 589.08,1215.36 618.08,1206.12 647.09,1198.65 676.09,1189.7 705.1,1185.77 734.1,1176.92" fill="none" stroke="#231f20" stroke-width="1.6" stroke-linejoin="round"/>
<rect x="175.6" y="1321.93" width="14.8" height="14.8" fill="#fff" stroke="#231f20" stroke-width="1.7"/>
<rect x="204.61" y="1315.54" width="14.8" height="14.8" fill="#fff" stroke="#231f20" stroke-width="1.7"/>
<rect x="233.62" y="1306.98" width="14.8" height="14.8" fill="#fff" stroke="#231f20" stroke-width="1.7"/>
<rect x="262.62" y="1300.69" width="14.8" height="14.8" fill="#fff" stroke="#231f20" stroke-width="1.7"/>
<rect x="291.62" y="1288" width="14.8" height="14.8" fill="#fff" stroke="#231f20" stroke-width="1.7"/>
<rect x="320.63" y="1281.22" width="14.8" height="14.8" fill="#fff" stroke="#231f20" stroke-width="1.7"/>
<rect x="349.64" y="1268.34" width="14.8" height="14.8" fill="#fff" stroke="#231f20" stroke-width="1.7"/>
<rect x="378.64" y="1259.39" width="14.8" height="14.8" fill="#fff" stroke="#231f20" stroke-width="1.7"/>
<rect x="407.65" y="1248.28" width="14.8" height="14.8" fill="#fff" stroke="#231f20" stroke-width="1.7"/>
<rect x="436.65" y="1242.08" width="14.8" height="14.8" fill="#fff" stroke="#231f20" stroke-width="1.7"/>
<rect x="465.66" y="1231.66" width="14.8" height="14.8" fill="#fff" stroke="#231f20" stroke-width="1.7"/>
<rect x="494.66" y="1225.07" width="14.8" height="14.8" fill="#fff" stroke="#231f20" stroke-width="1.7"/>
<rect x="523.67" y="1218.39" width="14.8" height="14.8" fill="#fff" stroke="#231f20" stroke-width="1.7"/>
<rect x="552.67" y="1213.86" width="14.8" height="14.8" fill="#fff" stroke="#231f20" stroke-width="1.7"/>
<rect x="581.68" y="1207.96" width="14.8" height="14.8" fill="#fff" stroke="#231f20" stroke-width="1.7"/>
<rect x="610.68" y="1198.72" width="14.8" height="14.8" fill="#fff" stroke="#231f20" stroke-width="1.7"/>
<rect x="639.69" y="1191.25" width="14.8" height="14.8" fill="#fff" stroke="#231f20" stroke-width="1.7"/>
<rect x="668.69" y="1182.3" width="14.8" height="14.8" fill="#fff" stroke="#231f20" stroke-width="1.7"/>
<rect x="697.7" y="1178.37" width="14.8" height="14.8" fill="#fff" stroke="#231f20" stroke-width="1.7"/>
<rect x="726.7" y="1169.52" width="14.8" height="14.8" fill="#fff" stroke="#231f20" stroke-width="1.7"/>
<polyline points="183,1327.36 212.01,1322.05 241.02,1313.69 270.02,1304.25 299.02,1291.47 328.03,1285.28 357.04,1269.35 386.04,1263.05 415.05,1253.81 444.05,1242.99 473.06,1233.65 502.06,1228.24 531.07,1221.95 560.07,1213.4 589.08,1209.46 618.08,1202.19 647.09,1194.32 676.09,1184.39 705.1,1175.93 734.1,1166.98" fill="none" stroke="#ed1c24" stroke-width="1.6" stroke-linejoin="round"/>
<rect x="175.6" y="1319.96" width="14.8" height="14.8" fill="#fff" stroke="#ed1c24" stroke-width="1.7"/>
<rect x="204.61" y="1314.65" width="14.8" height="14.8" fill="#fff" stroke="#ed1c24" stroke-width="1.7"/>
<rect x="233.62" y="1306.29" width="14.8" height="14.8" fill="#fff" stroke="#ed1c24" stroke-width="1.7"/>
<rect x="262.62" y="1296.85" width="14.8" height="14.8" fill="#fff" stroke="#ed1c24" stroke-width="1.7"/>
<rect x="291.62" y="1284.07" width="14.8" height="14.8" fill="#fff" stroke="#ed1c24" stroke-width="1.7"/>
<rect x="320.63" y="1277.88" width="14.8" height="14.8" fill="#fff" stroke="#ed1c24" stroke-width="1.7"/>
<rect x="349.64" y="1261.95" width="14.8" height="14.8" fill="#fff" stroke="#ed1c24" stroke-width="1.7"/>
<rect x="378.64" y="1255.65" width="14.8" height="14.8" fill="#fff" stroke="#ed1c24" stroke-width="1.7"/>
<rect x="407.65" y="1246.41" width="14.8" height="14.8" fill="#fff" stroke="#ed1c24" stroke-width="1.7"/>
<rect x="436.65" y="1235.59" width="14.8" height="14.8" fill="#fff" stroke="#ed1c24" stroke-width="1.7"/>
<rect x="465.66" y="1226.25" width="14.8" height="14.8" fill="#fff" stroke="#ed1c24" stroke-width="1.7"/>
<rect x="494.66" y="1220.84" width="14.8" height="14.8" fill="#fff" stroke="#ed1c24" stroke-width="1.7"/>
<rect x="523.67" y="1214.55" width="14.8" height="14.8" fill="#fff" stroke="#ed1c24" stroke-width="1.7"/>
<rect x="552.67" y="1206" width="14.8" height="14.8" fill="#fff" stroke="#ed1c24" stroke-width="1.7"/>
<rect x="581.68" y="1202.06" width="14.8" height="14.8" fill="#fff" stroke="#ed1c24" stroke-width="1.7"/>
<rect x="610.68" y="1194.79" width="14.8" height="14.8" fill="#fff" stroke="#ed1c24" stroke-width="1.7"/>
<rect x="639.69" y="1186.92" width="14.8" height="14.8" fill="#fff" stroke="#ed1c24" stroke-width="1.7"/>
<rect x="668.69" y="1176.99" width="14.8" height="14.8" fill="#fff" stroke="#ed1c24" stroke-width="1.7"/>
<rect x="697.7" y="1168.53" width="14.8" height="14.8" fill="#fff" stroke="#ed1c24" stroke-width="1.7"/>
<rect x="726.7" y="1159.58" width="14.8" height="14.8" fill="#fff" stroke="#ed1c24" stroke-width="1.7"/>
<polyline points="183,1326.48 212.01,1320.08 241.02,1311.23 270.02,1300.42 299.02,1289.5 328.03,1283.11 357.04,1266.4 386.04,1260.5 415.05,1248.99 444.05,1239.65 473.06,1231.19 502.06,1223.33 531.07,1216.35 560.07,1211.04 589.08,1206.12 618.08,1194.32 647.09,1186.45 676.09,1177.9 705.1,1166.59 734.1,1160.69" fill="none" stroke="#3a55a5" stroke-width="1.6" stroke-linejoin="round"/>
<rect x="175.6" y="1319.08" width="14.8" height="14.8" fill="#fff" stroke="#3a55a5" stroke-width="1.7"/>
<rect x="204.61" y="1312.68" width="14.8" height="14.8" fill="#fff" stroke="#3a55a5" stroke-width="1.7"/>
<rect x="233.62" y="1303.83" width="14.8" height="14.8" fill="#fff" stroke="#3a55a5" stroke-width="1.7"/>
<rect x="262.62" y="1293.02" width="14.8" height="14.8" fill="#fff" stroke="#3a55a5" stroke-width="1.7"/>
<rect x="291.62" y="1282.1" width="14.8" height="14.8" fill="#fff" stroke="#3a55a5" stroke-width="1.7"/>
<rect x="320.63" y="1275.71" width="14.8" height="14.8" fill="#fff" stroke="#3a55a5" stroke-width="1.7"/>
<rect x="349.64" y="1259" width="14.8" height="14.8" fill="#fff" stroke="#3a55a5" stroke-width="1.7"/>
<rect x="378.64" y="1253.1" width="14.8" height="14.8" fill="#fff" stroke="#3a55a5" stroke-width="1.7"/>
<rect x="407.65" y="1241.59" width="14.8" height="14.8" fill="#fff" stroke="#3a55a5" stroke-width="1.7"/>
<rect x="436.65" y="1232.25" width="14.8" height="14.8" fill="#fff" stroke="#3a55a5" stroke-width="1.7"/>
<rect x="465.66" y="1223.79" width="14.8" height="14.8" fill="#fff" stroke="#3a55a5" stroke-width="1.7"/>
<rect x="494.66" y="1215.93" width="14.8" height="14.8" fill="#fff" stroke="#3a55a5" stroke-width="1.7"/>
<rect x="523.67" y="1208.95" width="14.8" height="14.8" fill="#fff" stroke="#3a55a5" stroke-width="1.7"/>
<rect x="552.67" y="1203.64" width="14.8" height="14.8" fill="#fff" stroke="#3a55a5" stroke-width="1.7"/>
<rect x="581.68" y="1198.72" width="14.8" height="14.8" fill="#fff" stroke="#3a55a5" stroke-width="1.7"/>
<rect x="610.68" y="1186.92" width="14.8" height="14.8" fill="#fff" stroke="#3a55a5" stroke-width="1.7"/>
<rect x="639.69" y="1179.05" width="14.8" height="14.8" fill="#fff" stroke="#3a55a5" stroke-width="1.7"/>
<rect x="668.69" y="1170.5" width="14.8" height="14.8" fill="#fff" stroke="#3a55a5" stroke-width="1.7"/>
<rect x="697.7" y="1159.19" width="14.8" height="14.8" fill="#fff" stroke="#3a55a5" stroke-width="1.7"/>
<rect x="726.7" y="1153.29" width="14.8" height="14.8" fill="#fff" stroke="#3a55a5" stroke-width="1.7"/>
<polyline points="183,1324.61 212.01,1318.12 241.02,1306.32 270.02,1295.89 299.02,1284.1 328.03,1272.69 357.04,1262.27 386.04,1250.47 415.05,1241.42 444.05,1232.47 473.06,1226.18 502.06,1219.3 531.07,1209.95 560.07,1203.46 589.08,1195.2 618.08,1186.55 647.09,1177.51 676.09,1173.08 705.1,1162.85 734.1,1156.86" fill="none" stroke="#0e8584" stroke-width="1.6" stroke-linejoin="round"/>
<rect x="175.6" y="1317.21" width="14.8" height="14.8" fill="#fff" stroke="#0e8584" stroke-width="1.7"/>
<rect x="204.61" y="1310.72" width="14.8" height="14.8" fill="#fff" stroke="#0e8584" stroke-width="1.7"/>
<rect x="233.62" y="1298.92" width="14.8" height="14.8" fill="#fff" stroke="#0e8584" stroke-width="1.7"/>
<rect x="262.62" y="1288.49" width="14.8" height="14.8" fill="#fff" stroke="#0e8584" stroke-width="1.7"/>
<rect x="291.62" y="1276.7" width="14.8" height="14.8" fill="#fff" stroke="#0e8584" stroke-width="1.7"/>
<rect x="320.63" y="1265.29" width="14.8" height="14.8" fill="#fff" stroke="#0e8584" stroke-width="1.7"/>
<rect x="349.64" y="1254.87" width="14.8" height="14.8" fill="#fff" stroke="#0e8584" stroke-width="1.7"/>
<rect x="378.64" y="1243.07" width="14.8" height="14.8" fill="#fff" stroke="#0e8584" stroke-width="1.7"/>
<rect x="407.65" y="1234.02" width="14.8" height="14.8" fill="#fff" stroke="#0e8584" stroke-width="1.7"/>
<rect x="436.65" y="1225.07" width="14.8" height="14.8" fill="#fff" stroke="#0e8584" stroke-width="1.7"/>
<rect x="465.66" y="1218.78" width="14.8" height="14.8" fill="#fff" stroke="#0e8584" stroke-width="1.7"/>
<rect x="494.66" y="1211.9" width="14.8" height="14.8" fill="#fff" stroke="#0e8584" stroke-width="1.7"/>
<rect x="523.67" y="1202.55" width="14.8" height="14.8" fill="#fff" stroke="#0e8584" stroke-width="1.7"/>
<rect x="552.67" y="1196.06" width="14.8" height="14.8" fill="#fff" stroke="#0e8584" stroke-width="1.7"/>
<rect x="581.68" y="1187.8" width="14.8" height="14.8" fill="#fff" stroke="#0e8584" stroke-width="1.7"/>
<rect x="610.68" y="1179.15" width="14.8" height="14.8" fill="#fff" stroke="#0e8584" stroke-width="1.7"/>
<rect x="639.69" y="1170.11" width="14.8" height="14.8" fill="#fff" stroke="#0e8584" stroke-width="1.7"/>
<rect x="668.69" y="1165.68" width="14.8" height="14.8" fill="#fff" stroke="#0e8584" stroke-width="1.7"/>
<rect x="697.7" y="1155.45" width="14.8" height="14.8" fill="#fff" stroke="#0e8584" stroke-width="1.7"/>
<rect x="726.7" y="1149.46" width="14.8" height="14.8" fill="#fff" stroke="#0e8584" stroke-width="1.7"/>
<polyline points="183,1321.07 212.01,1315.66 241.02,1304.25 270.02,1291.47 299.02,1279.18 328.03,1266.79 357.04,1260.89 386.04,1246.43 415.05,1235.72 444.05,1227.95 473.06,1220.87 502.06,1210.64 531.07,1198.84 560.07,1188.91 589.08,1179.47 618.08,1170.82 647.09,1161.28 676.09,1147.51 705.1,1136.01 734.1,1131.68" fill="none" stroke="#a2a3a6" stroke-width="1.6" stroke-linejoin="round"/>
<rect x="175.6" y="1313.67" width="14.8" height="14.8" fill="#fff" stroke="#a2a3a6" stroke-width="1.7"/>
<rect x="204.61" y="1308.26" width="14.8" height="14.8" fill="#fff" stroke="#a2a3a6" stroke-width="1.7"/>
<rect x="233.62" y="1296.85" width="14.8" height="14.8" fill="#fff" stroke="#a2a3a6" stroke-width="1.7"/>
<rect x="262.62" y="1284.07" width="14.8" height="14.8" fill="#fff" stroke="#a2a3a6" stroke-width="1.7"/>
<rect x="291.62" y="1271.78" width="14.8" height="14.8" fill="#fff" stroke="#a2a3a6" stroke-width="1.7"/>
<rect x="320.63" y="1259.39" width="14.8" height="14.8" fill="#fff" stroke="#a2a3a6" stroke-width="1.7"/>
<rect x="349.64" y="1253.49" width="14.8" height="14.8" fill="#fff" stroke="#a2a3a6" stroke-width="1.7"/>
<rect x="378.64" y="1239.03" width="14.8" height="14.8" fill="#fff" stroke="#a2a3a6" stroke-width="1.7"/>
<rect x="407.65" y="1228.32" width="14.8" height="14.8" fill="#fff" stroke="#a2a3a6" stroke-width="1.7"/>
<rect x="436.65" y="1220.55" width="14.8" height="14.8" fill="#fff" stroke="#a2a3a6" stroke-width="1.7"/>
<rect x="465.66" y="1213.47" width="14.8" height="14.8" fill="#fff" stroke="#a2a3a6" stroke-width="1.7"/>
<rect x="494.66" y="1203.24" width="14.8" height="14.8" fill="#fff" stroke="#a2a3a6" stroke-width="1.7"/>
<rect x="523.67" y="1191.44" width="14.8" height="14.8" fill="#fff" stroke="#a2a3a6" stroke-width="1.7"/>
<rect x="552.67" y="1181.51" width="14.8" height="14.8" fill="#fff" stroke="#a2a3a6" stroke-width="1.7"/>
<rect x="581.68" y="1172.07" width="14.8" height="14.8" fill="#fff" stroke="#a2a3a6" stroke-width="1.7"/>
<rect x="610.68" y="1163.42" width="14.8" height="14.8" fill="#fff" stroke="#a2a3a6" stroke-width="1.7"/>
<rect x="639.69" y="1153.88" width="14.8" height="14.8" fill="#fff" stroke="#a2a3a6" stroke-width="1.7"/>
<rect x="668.69" y="1140.11" width="14.8" height="14.8" fill="#fff" stroke="#a2a3a6" stroke-width="1.7"/>
<rect x="697.7" y="1128.61" width="14.8" height="14.8" fill="#fff" stroke="#a2a3a6" stroke-width="1.7"/>
<rect x="726.7" y="1124.28" width="14.8" height="14.8" fill="#fff" stroke="#a2a3a6" stroke-width="1.7"/>
<polyline points="183,1318.41 212.01,1307.5 241.02,1293.83 270.02,1280.36 299.02,1267.87 328.03,1253.81 357.04,1238.37 386.04,1224.21 415.05,1210.35 444.05,1195.7 473.06,1184.29 502.06,1168.46 531.07,1155.09 560.07,1144.17 589.08,1130.01 618.08,1116.74 647.09,1104.05 676.09,1094.22 705.1,1083.6 734.1,1072.49" fill="none" stroke="#818132" stroke-width="1.6" stroke-linejoin="round"/>
<polygon points="183,1306.41 172.6,1324.41 193.41,1324.41" fill="#fff"/><polygon points="183,1306.41 183,1324.41 193.41,1324.41" fill="#818132"/><polygon points="183,1306.41 172.6,1324.41 193.41,1324.41" fill="none" stroke="#818132" stroke-width="1.7" stroke-linejoin="miter"/>
<polygon points="212.01,1295.5 201.61,1313.5 222.41,1313.5" fill="#fff"/><polygon points="212.01,1295.5 212.01,1313.5 222.41,1313.5" fill="#818132"/><polygon points="212.01,1295.5 201.61,1313.5 222.41,1313.5" fill="none" stroke="#818132" stroke-width="1.7" stroke-linejoin="miter"/>
<polygon points="241.02,1281.83 230.62,1299.83 251.42,1299.83" fill="#fff"/><polygon points="241.02,1281.83 241.02,1299.83 251.42,1299.83" fill="#818132"/><polygon points="241.02,1281.83 230.62,1299.83 251.42,1299.83" fill="none" stroke="#818132" stroke-width="1.7" stroke-linejoin="miter"/>
<polygon points="270.02,1268.36 259.62,1286.36 280.42,1286.36" fill="#fff"/><polygon points="270.02,1268.36 270.02,1286.36 280.42,1286.36" fill="#818132"/><polygon points="270.02,1268.36 259.62,1286.36 280.42,1286.36" fill="none" stroke="#818132" stroke-width="1.7" stroke-linejoin="miter"/>
<polygon points="299.02,1255.87 288.62,1273.87 309.42,1273.87" fill="#fff"/><polygon points="299.02,1255.87 299.02,1273.87 309.42,1273.87" fill="#818132"/><polygon points="299.02,1255.87 288.62,1273.87 309.42,1273.87" fill="none" stroke="#818132" stroke-width="1.7" stroke-linejoin="miter"/>
<polygon points="328.03,1241.81 317.63,1259.81 338.43,1259.81" fill="#fff"/><polygon points="328.03,1241.81 328.03,1259.81 338.43,1259.81" fill="#818132"/><polygon points="328.03,1241.81 317.63,1259.81 338.43,1259.81" fill="none" stroke="#818132" stroke-width="1.7" stroke-linejoin="miter"/>
<polygon points="357.04,1226.37 346.64,1244.37 367.44,1244.37" fill="#fff"/><polygon points="357.04,1226.37 357.04,1244.37 367.44,1244.37" fill="#818132"/><polygon points="357.04,1226.37 346.64,1244.37 367.44,1244.37" fill="none" stroke="#818132" stroke-width="1.7" stroke-linejoin="miter"/>
<polygon points="386.04,1212.21 375.64,1230.21 396.44,1230.21" fill="#fff"/><polygon points="386.04,1212.21 386.04,1230.21 396.44,1230.21" fill="#818132"/><polygon points="386.04,1212.21 375.64,1230.21 396.44,1230.21" fill="none" stroke="#818132" stroke-width="1.7" stroke-linejoin="miter"/>
<polygon points="415.05,1198.35 404.65,1216.35 425.44,1216.35" fill="#fff"/><polygon points="415.05,1198.35 415.05,1216.35 425.44,1216.35" fill="#818132"/><polygon points="415.05,1198.35 404.65,1216.35 425.44,1216.35" fill="none" stroke="#818132" stroke-width="1.7" stroke-linejoin="miter"/>
<polygon points="444.05,1183.7 433.65,1201.7 454.45,1201.7" fill="#fff"/><polygon points="444.05,1183.7 444.05,1201.7 454.45,1201.7" fill="#818132"/><polygon points="444.05,1183.7 433.65,1201.7 454.45,1201.7" fill="none" stroke="#818132" stroke-width="1.7" stroke-linejoin="miter"/>
<polygon points="473.06,1172.29 462.66,1190.29 483.45,1190.29" fill="#fff"/><polygon points="473.06,1172.29 473.06,1190.29 483.45,1190.29" fill="#818132"/><polygon points="473.06,1172.29 462.66,1190.29 483.45,1190.29" fill="none" stroke="#818132" stroke-width="1.7" stroke-linejoin="miter"/>
<polygon points="502.06,1156.46 491.66,1174.46 512.46,1174.46" fill="#fff"/><polygon points="502.06,1156.46 502.06,1174.46 512.46,1174.46" fill="#818132"/><polygon points="502.06,1156.46 491.66,1174.46 512.46,1174.46" fill="none" stroke="#818132" stroke-width="1.7" stroke-linejoin="miter"/>
<polygon points="531.07,1143.09 520.67,1161.09 541.47,1161.09" fill="#fff"/><polygon points="531.07,1143.09 531.07,1161.09 541.47,1161.09" fill="#818132"/><polygon points="531.07,1143.09 520.67,1161.09 541.47,1161.09" fill="none" stroke="#818132" stroke-width="1.7" stroke-linejoin="miter"/>
<polygon points="560.07,1132.17 549.67,1150.17 570.47,1150.17" fill="#fff"/><polygon points="560.07,1132.17 560.07,1150.17 570.47,1150.17" fill="#818132"/><polygon points="560.07,1132.17 549.67,1150.17 570.47,1150.17" fill="none" stroke="#818132" stroke-width="1.7" stroke-linejoin="miter"/>
<polygon points="589.08,1118.01 578.68,1136.01 599.48,1136.01" fill="#fff"/><polygon points="589.08,1118.01 589.08,1136.01 599.48,1136.01" fill="#818132"/><polygon points="589.08,1118.01 578.68,1136.01 599.48,1136.01" fill="none" stroke="#818132" stroke-width="1.7" stroke-linejoin="miter"/>
<polygon points="618.08,1104.74 607.68,1122.74 628.48,1122.74" fill="#fff"/><polygon points="618.08,1104.74 618.08,1122.74 628.48,1122.74" fill="#818132"/><polygon points="618.08,1104.74 607.68,1122.74 628.48,1122.74" fill="none" stroke="#818132" stroke-width="1.7" stroke-linejoin="miter"/>
<polygon points="647.09,1092.05 636.69,1110.05 657.49,1110.05" fill="#fff"/><polygon points="647.09,1092.05 647.09,1110.05 657.49,1110.05" fill="#818132"/><polygon points="647.09,1092.05 636.69,1110.05 657.49,1110.05" fill="none" stroke="#818132" stroke-width="1.7" stroke-linejoin="miter"/>
<polygon points="676.09,1082.22 665.69,1100.22 686.49,1100.22" fill="#fff"/><polygon points="676.09,1082.22 676.09,1100.22 686.49,1100.22" fill="#818132"/><polygon points="676.09,1082.22 665.69,1100.22 686.49,1100.22" fill="none" stroke="#818132" stroke-width="1.7" stroke-linejoin="miter"/>
<polygon points="705.1,1071.6 694.7,1089.6 715.5,1089.6" fill="#fff"/><polygon points="705.1,1071.6 705.1,1089.6 715.5,1089.6" fill="#818132"/><polygon points="705.1,1071.6 694.7,1089.6 715.5,1089.6" fill="none" stroke="#818132" stroke-width="1.7" stroke-linejoin="miter"/>
<polygon points="734.1,1060.49 723.7,1078.49 744.5,1078.49" fill="#fff"/><polygon points="734.1,1060.49 734.1,1078.49 744.5,1078.49" fill="#818132"/><polygon points="734.1,1060.49 723.7,1078.49 744.5,1078.49" fill="none" stroke="#818132" stroke-width="1.7" stroke-linejoin="miter"/>
<polyline points="183,1303.37 212.01,1251.84 241.02,1188.13 270.02,1131.39 299.02,1081.34 328.03,1040.83 357.04,1007.39 386.04,977.6 415.05,954.2 444.05,932.57 473.06,915.75 502.06,899.13 531.07,886.15 560.07,875.63 589.08,865.11 618.08,857.54 647.09,849.77 676.09,842.4 705.1,838.66 734.1,831.97" fill="none" stroke="#88141a" stroke-width="1.6" stroke-linejoin="round"/>
<circle cx="183" cy="1303.37" r="8.8" fill="#fff" stroke="#88141a" stroke-width="1.7"/>
<circle cx="212.01" cy="1251.84" r="8.8" fill="#fff" stroke="#88141a" stroke-width="1.7"/>
<circle cx="241.02" cy="1188.13" r="8.8" fill="#fff" stroke="#88141a" stroke-width="1.7"/>
<circle cx="270.02" cy="1131.39" r="8.8" fill="#fff" stroke="#88141a" stroke-width="1.7"/>
<circle cx="299.02" cy="1081.34" r="8.8" fill="#fff" stroke="#88141a" stroke-width="1.7"/>
<circle cx="328.03" cy="1040.83" r="8.8" fill="#fff" stroke="#88141a" stroke-width="1.7"/>
<circle cx="357.04" cy="1007.39" r="8.8" fill="#fff" stroke="#88141a" stroke-width="1.7"/>
<circle cx="386.04" cy="977.6" r="8.8" fill="#fff" stroke="#88141a" stroke-width="1.7"/>
<circle cx="415.05" cy="954.2" r="8.8" fill="#fff" stroke="#88141a" stroke-width="1.7"/>
<circle cx="444.05" cy="932.57" r="8.8" fill="#fff" stroke="#88141a" stroke-width="1.7"/>
<circle cx="473.06" cy="915.75" r="8.8" fill="#fff" stroke="#88141a" stroke-width="1.7"/>
<circle cx="502.06" cy="899.13" r="8.8" fill="#fff" stroke="#88141a" stroke-width="1.7"/>
<circle cx="531.07" cy="886.15" r="8.8" fill="#fff" stroke="#88141a" stroke-width="1.7"/>
<circle cx="560.07" cy="875.63" r="8.8" fill="#fff" stroke="#88141a" stroke-width="1.7"/>
<circle cx="589.08" cy="865.11" r="8.8" fill="#fff" stroke="#88141a" stroke-width="1.7"/>
<circle cx="618.08" cy="857.54" r="8.8" fill="#fff" stroke="#88141a" stroke-width="1.7"/>
<circle cx="647.09" cy="849.77" r="8.8" fill="#fff" stroke="#88141a" stroke-width="1.7"/>
<circle cx="676.09" cy="842.4" r="8.8" fill="#fff" stroke="#88141a" stroke-width="1.7"/>
<circle cx="705.1" cy="838.66" r="8.8" fill="#fff" stroke="#88141a" stroke-width="1.7"/>
<circle cx="734.1" cy="831.97" r="8.8" fill="#fff" stroke="#88141a" stroke-width="1.7"/>
<polyline points="183,1298.84 212.01,1236.9 241.02,1168.36 270.02,1108.08 299.02,1059.21 328.03,1017.23 357.04,982.03 386.04,955.48 415.05,930.5 444.05,912.11 473.06,894.91 502.06,880.75 531.07,867.57 560.07,857.74 589.08,846.63 618.08,841.02 647.09,832.56 676.09,824.6 705.1,818.31 734.1,813.09" fill="none" stroke="#232e93" stroke-width="1.6" stroke-linejoin="round"/>
<circle cx="183" cy="1298.84" r="8.8" fill="#fff" stroke="#232e93" stroke-width="1.7"/>
<circle cx="212.01" cy="1236.9" r="8.8" fill="#fff" stroke="#232e93" stroke-width="1.7"/>
<circle cx="241.02" cy="1168.36" r="8.8" fill="#fff" stroke="#232e93" stroke-width="1.7"/>
<circle cx="270.02" cy="1108.08" r="8.8" fill="#fff" stroke="#232e93" stroke-width="1.7"/>
<circle cx="299.02" cy="1059.21" r="8.8" fill="#fff" stroke="#232e93" stroke-width="1.7"/>
<circle cx="328.03" cy="1017.23" r="8.8" fill="#fff" stroke="#232e93" stroke-width="1.7"/>
<circle cx="357.04" cy="982.03" r="8.8" fill="#fff" stroke="#232e93" stroke-width="1.7"/>
<circle cx="386.04" cy="955.48" r="8.8" fill="#fff" stroke="#232e93" stroke-width="1.7"/>
<circle cx="415.05" cy="930.5" r="8.8" fill="#fff" stroke="#232e93" stroke-width="1.7"/>
<circle cx="444.05" cy="912.11" r="8.8" fill="#fff" stroke="#232e93" stroke-width="1.7"/>
<circle cx="473.06" cy="894.91" r="8.8" fill="#fff" stroke="#232e93" stroke-width="1.7"/>
<circle cx="502.06" cy="880.75" r="8.8" fill="#fff" stroke="#232e93" stroke-width="1.7"/>
<circle cx="531.07" cy="867.57" r="8.8" fill="#fff" stroke="#232e93" stroke-width="1.7"/>
<circle cx="560.07" cy="857.74" r="8.8" fill="#fff" stroke="#232e93" stroke-width="1.7"/>
<circle cx="589.08" cy="846.63" r="8.8" fill="#fff" stroke="#232e93" stroke-width="1.7"/>
<circle cx="618.08" cy="841.02" r="8.8" fill="#fff" stroke="#232e93" stroke-width="1.7"/>
<circle cx="647.09" cy="832.56" r="8.8" fill="#fff" stroke="#232e93" stroke-width="1.7"/>
<circle cx="676.09" cy="824.6" r="8.8" fill="#fff" stroke="#232e93" stroke-width="1.7"/>
<circle cx="705.1" cy="818.31" r="8.8" fill="#fff" stroke="#232e93" stroke-width="1.7"/>
<circle cx="734.1" cy="813.09" r="8.8" fill="#fff" stroke="#232e93" stroke-width="1.7"/>
<polyline points="183,1315.07 212.01,1286.06 241.02,1253.81 270.02,1222.74 299.02,1194.61 328.03,1170.03 357.04,1145.15 386.04,1121.85 415.05,1102.58 444.05,1083.5 473.06,1068.75 502.06,1050.66 531.07,1041.81 560.07,1026.57 589.08,1011.43 618.08,1006.31 647.09,990.19 676.09,980.75 705.1,975.14 734.1,970.72" fill="none" stroke="#7c2482" stroke-width="1.6" stroke-linejoin="round"/>
<polygon points="183,1303.07 172.6,1321.07 193.41,1321.07" fill="#fff"/><polygon points="183,1303.07 189.94,1315.07 176.07,1315.07" fill="#7c2482"/><polygon points="183,1303.07 172.6,1321.07 193.41,1321.07" fill="none" stroke="#7c2482" stroke-width="1.7" stroke-linejoin="miter"/>
<polygon points="212.01,1274.06 201.61,1292.06 222.41,1292.06" fill="#fff"/><polygon points="212.01,1274.06 218.94,1286.06 205.08,1286.06" fill="#7c2482"/><polygon points="212.01,1274.06 201.61,1292.06 222.41,1292.06" fill="none" stroke="#7c2482" stroke-width="1.7" stroke-linejoin="miter"/>
<polygon points="241.02,1241.81 230.62,1259.81 251.42,1259.81" fill="#fff"/><polygon points="241.02,1241.81 247.95,1253.81 234.08,1253.81" fill="#7c2482"/><polygon points="241.02,1241.81 230.62,1259.81 251.42,1259.81" fill="none" stroke="#7c2482" stroke-width="1.7" stroke-linejoin="miter"/>
<polygon points="270.02,1210.74 259.62,1228.74 280.42,1228.74" fill="#fff"/><polygon points="270.02,1210.74 276.95,1222.74 263.09,1222.74" fill="#7c2482"/><polygon points="270.02,1210.74 259.62,1228.74 280.42,1228.74" fill="none" stroke="#7c2482" stroke-width="1.7" stroke-linejoin="miter"/>
<polygon points="299.02,1182.61 288.62,1200.61 309.42,1200.61" fill="#fff"/><polygon points="299.02,1182.61 305.96,1194.61 292.09,1194.61" fill="#7c2482"/><polygon points="299.02,1182.61 288.62,1200.61 309.42,1200.61" fill="none" stroke="#7c2482" stroke-width="1.7" stroke-linejoin="miter"/>
<polygon points="328.03,1158.03 317.63,1176.03 338.43,1176.03" fill="#fff"/><polygon points="328.03,1158.03 334.96,1170.03 321.1,1170.03" fill="#7c2482"/><polygon points="328.03,1158.03 317.63,1176.03 338.43,1176.03" fill="none" stroke="#7c2482" stroke-width="1.7" stroke-linejoin="miter"/>
<polygon points="357.04,1133.15 346.64,1151.15 367.44,1151.15" fill="#fff"/><polygon points="357.04,1133.15 363.97,1145.15 350.1,1145.15" fill="#7c2482"/><polygon points="357.04,1133.15 346.64,1151.15 367.44,1151.15" fill="none" stroke="#7c2482" stroke-width="1.7" stroke-linejoin="miter"/>
<polygon points="386.04,1109.85 375.64,1127.85 396.44,1127.85" fill="#fff"/><polygon points="386.04,1109.85 392.97,1121.85 379.11,1121.85" fill="#7c2482"/><polygon points="386.04,1109.85 375.64,1127.85 396.44,1127.85" fill="none" stroke="#7c2482" stroke-width="1.7" stroke-linejoin="miter"/>
<polygon points="415.05,1090.58 404.65,1108.58 425.44,1108.58" fill="#fff"/><polygon points="415.05,1090.58 421.98,1102.58 408.11,1102.58" fill="#7c2482"/><polygon points="415.05,1090.58 404.65,1108.58 425.44,1108.58" fill="none" stroke="#7c2482" stroke-width="1.7" stroke-linejoin="miter"/>
<polygon points="444.05,1071.5 433.65,1089.5 454.45,1089.5" fill="#fff"/><polygon points="444.05,1071.5 450.98,1083.5 437.12,1083.5" fill="#7c2482"/><polygon points="444.05,1071.5 433.65,1089.5 454.45,1089.5" fill="none" stroke="#7c2482" stroke-width="1.7" stroke-linejoin="miter"/>
<polygon points="473.06,1056.75 462.66,1074.75 483.45,1074.75" fill="#fff"/><polygon points="473.06,1056.75 479.99,1068.75 466.12,1068.75" fill="#7c2482"/><polygon points="473.06,1056.75 462.66,1074.75 483.45,1074.75" fill="none" stroke="#7c2482" stroke-width="1.7" stroke-linejoin="miter"/>
<polygon points="502.06,1038.66 491.66,1056.66 512.46,1056.66" fill="#fff"/><polygon points="502.06,1038.66 508.99,1050.66 495.13,1050.66" fill="#7c2482"/><polygon points="502.06,1038.66 491.66,1056.66 512.46,1056.66" fill="none" stroke="#7c2482" stroke-width="1.7" stroke-linejoin="miter"/>
<polygon points="531.07,1029.81 520.67,1047.81 541.47,1047.81" fill="#fff"/><polygon points="531.07,1029.81 538,1041.81 524.13,1041.81" fill="#7c2482"/><polygon points="531.07,1029.81 520.67,1047.81 541.47,1047.81" fill="none" stroke="#7c2482" stroke-width="1.7" stroke-linejoin="miter"/>
<polygon points="560.07,1014.57 549.67,1032.57 570.47,1032.57" fill="#fff"/><polygon points="560.07,1014.57 567,1026.57 553.14,1026.57" fill="#7c2482"/><polygon points="560.07,1014.57 549.67,1032.57 570.47,1032.57" fill="none" stroke="#7c2482" stroke-width="1.7" stroke-linejoin="miter"/>
<polygon points="589.08,999.43 578.68,1017.43 599.48,1017.43" fill="#fff"/><polygon points="589.08,999.43 596.01,1011.43 582.14,1011.43" fill="#7c2482"/><polygon points="589.08,999.43 578.68,1017.43 599.48,1017.43" fill="none" stroke="#7c2482" stroke-width="1.7" stroke-linejoin="miter"/>
<polygon points="618.08,994.31 607.68,1012.31 628.48,1012.31" fill="#fff"/><polygon points="618.08,994.31 625.01,1006.31 611.15,1006.31" fill="#7c2482"/><polygon points="618.08,994.31 607.68,1012.31 628.48,1012.31" fill="none" stroke="#7c2482" stroke-width="1.7" stroke-linejoin="miter"/>
<polygon points="647.09,978.19 636.69,996.19 657.49,996.19" fill="#fff"/><polygon points="647.09,978.19 654.02,990.19 640.15,990.19" fill="#7c2482"/><polygon points="647.09,978.19 636.69,996.19 657.49,996.19" fill="none" stroke="#7c2482" stroke-width="1.7" stroke-linejoin="miter"/>
<polygon points="676.09,968.75 665.69,986.75 686.49,986.75" fill="#fff"/><polygon points="676.09,968.75 683.02,980.75 669.16,980.75" fill="#7c2482"/><polygon points="676.09,968.75 665.69,986.75 686.49,986.75" fill="none" stroke="#7c2482" stroke-width="1.7" stroke-linejoin="miter"/>
<polygon points="705.1,963.14 694.7,981.14 715.5,981.14" fill="#fff"/><polygon points="705.1,963.14 712.03,975.14 698.16,975.14" fill="#7c2482"/><polygon points="705.1,963.14 694.7,981.14 715.5,981.14" fill="none" stroke="#7c2482" stroke-width="1.7" stroke-linejoin="miter"/>
<polygon points="734.1,958.72 723.7,976.72 744.5,976.72" fill="#fff"/><polygon points="734.1,958.72 741.03,970.72 727.17,970.72" fill="#7c2482"/><polygon points="734.1,958.72 723.7,976.72 744.5,976.72" fill="none" stroke="#7c2482" stroke-width="1.7" stroke-linejoin="miter"/>
<polyline points="183,1315.86 212.01,1299.93 241.02,1274.16 270.02,1247.02 299.02,1222.34 328.03,1199.83 357.04,1177.51 386.04,1156.56 415.05,1137.19 444.05,1119.2 473.06,1101.99 502.06,1084.88 531.07,1070.33 560.07,1055.87 589.08,1042.89 618.08,1030.31 647.09,1021.06 676.09,1009.16 705.1,998.94 734.1,991.07" fill="none" stroke="#7c2482" stroke-width="1.6" stroke-linejoin="round"/>
<polygon points="183,1303.86 172.6,1321.86 193.41,1321.86" fill="#fff"/><polygon points="176.07,1315.86 189.94,1315.86 193.41,1321.86 172.6,1321.86" fill="#7c2482"/><polygon points="183,1303.86 172.6,1321.86 193.41,1321.86" fill="none" stroke="#7c2482" stroke-width="1.7" stroke-linejoin="miter"/>
<polygon points="212.01,1287.93 201.61,1305.93 222.41,1305.93" fill="#fff"/><polygon points="205.08,1299.93 218.94,1299.93 222.41,1305.93 201.61,1305.93" fill="#7c2482"/><polygon points="212.01,1287.93 201.61,1305.93 222.41,1305.93" fill="none" stroke="#7c2482" stroke-width="1.7" stroke-linejoin="miter"/>
<polygon points="241.02,1262.16 230.62,1280.16 251.42,1280.16" fill="#fff"/><polygon points="234.08,1274.16 247.95,1274.16 251.42,1280.16 230.62,1280.16" fill="#7c2482"/><polygon points="241.02,1262.16 230.62,1280.16 251.42,1280.16" fill="none" stroke="#7c2482" stroke-width="1.7" stroke-linejoin="miter"/>
<polygon points="270.02,1235.02 259.62,1253.02 280.42,1253.02" fill="#fff"/><polygon points="263.09,1247.02 276.95,1247.02 280.42,1253.02 259.62,1253.02" fill="#7c2482"/><polygon points="270.02,1235.02 259.62,1253.02 280.42,1253.02" fill="none" stroke="#7c2482" stroke-width="1.7" stroke-linejoin="miter"/>
<polygon points="299.02,1210.34 288.62,1228.34 309.42,1228.34" fill="#fff"/><polygon points="292.09,1222.34 305.96,1222.34 309.42,1228.34 288.62,1228.34" fill="#7c2482"/><polygon points="299.02,1210.34 288.62,1228.34 309.42,1228.34" fill="none" stroke="#7c2482" stroke-width="1.7" stroke-linejoin="miter"/>
<polygon points="328.03,1187.83 317.63,1205.83 338.43,1205.83" fill="#fff"/><polygon points="321.1,1199.83 334.96,1199.83 338.43,1205.83 317.63,1205.83" fill="#7c2482"/><polygon points="328.03,1187.83 317.63,1205.83 338.43,1205.83" fill="none" stroke="#7c2482" stroke-width="1.7" stroke-linejoin="miter"/>
<polygon points="357.04,1165.51 346.64,1183.51 367.44,1183.51" fill="#fff"/><polygon points="350.1,1177.51 363.97,1177.51 367.44,1183.51 346.64,1183.51" fill="#7c2482"/><polygon points="357.04,1165.51 346.64,1183.51 367.44,1183.51" fill="none" stroke="#7c2482" stroke-width="1.7" stroke-linejoin="miter"/>
<polygon points="386.04,1144.56 375.64,1162.56 396.44,1162.56" fill="#fff"/><polygon points="379.11,1156.56 392.97,1156.56 396.44,1162.56 375.64,1162.56" fill="#7c2482"/><polygon points="386.04,1144.56 375.64,1162.56 396.44,1162.56" fill="none" stroke="#7c2482" stroke-width="1.7" stroke-linejoin="miter"/>
<polygon points="415.05,1125.19 404.65,1143.19 425.44,1143.19" fill="#fff"/><polygon points="408.11,1137.19 421.98,1137.19 425.44,1143.19 404.65,1143.19" fill="#7c2482"/><polygon points="415.05,1125.19 404.65,1143.19 425.44,1143.19" fill="none" stroke="#7c2482" stroke-width="1.7" stroke-linejoin="miter"/>
<polygon points="444.05,1107.2 433.65,1125.2 454.45,1125.2" fill="#fff"/><polygon points="437.12,1119.2 450.98,1119.2 454.45,1125.2 433.65,1125.2" fill="#7c2482"/><polygon points="444.05,1107.2 433.65,1125.2 454.45,1125.2" fill="none" stroke="#7c2482" stroke-width="1.7" stroke-linejoin="miter"/>
<polygon points="473.06,1089.99 462.66,1107.99 483.45,1107.99" fill="#fff"/><polygon points="466.12,1101.99 479.99,1101.99 483.45,1107.99 462.66,1107.99" fill="#7c2482"/><polygon points="473.06,1089.99 462.66,1107.99 483.45,1107.99" fill="none" stroke="#7c2482" stroke-width="1.7" stroke-linejoin="miter"/>
<polygon points="502.06,1072.88 491.66,1090.88 512.46,1090.88" fill="#fff"/><polygon points="495.13,1084.88 508.99,1084.88 512.46,1090.88 491.66,1090.88" fill="#7c2482"/><polygon points="502.06,1072.88 491.66,1090.88 512.46,1090.88" fill="none" stroke="#7c2482" stroke-width="1.7" stroke-linejoin="miter"/>
<polygon points="531.07,1058.33 520.67,1076.33 541.47,1076.33" fill="#fff"/><polygon points="524.13,1070.33 538,1070.33 541.47,1076.33 520.67,1076.33" fill="#7c2482"/><polygon points="531.07,1058.33 520.67,1076.33 541.47,1076.33" fill="none" stroke="#7c2482" stroke-width="1.7" stroke-linejoin="miter"/>
<polygon points="560.07,1043.87 549.67,1061.87 570.47,1061.87" fill="#fff"/><polygon points="553.14,1055.87 567,1055.87 570.47,1061.87 549.67,1061.87" fill="#7c2482"/><polygon points="560.07,1043.87 549.67,1061.87 570.47,1061.87" fill="none" stroke="#7c2482" stroke-width="1.7" stroke-linejoin="miter"/>
<polygon points="589.08,1030.89 578.68,1048.89 599.48,1048.89" fill="#fff"/><polygon points="582.14,1042.89 596.01,1042.89 599.48,1048.89 578.68,1048.89" fill="#7c2482"/><polygon points="589.08,1030.89 578.68,1048.89 599.48,1048.89" fill="none" stroke="#7c2482" stroke-width="1.7" stroke-linejoin="miter"/>
<polygon points="618.08,1018.31 607.68,1036.31 628.48,1036.31" fill="#fff"/><polygon points="611.15,1030.31 625.01,1030.31 628.48,1036.31 607.68,1036.31" fill="#7c2482"/><polygon points="618.08,1018.31 607.68,1036.31 628.48,1036.31" fill="none" stroke="#7c2482" stroke-width="1.7" stroke-linejoin="miter"/>
<polygon points="647.09,1009.06 636.69,1027.06 657.49,1027.06" fill="#fff"/><polygon points="640.15,1021.06 654.02,1021.06 657.49,1027.06 636.69,1027.06" fill="#7c2482"/><polygon points="647.09,1009.06 636.69,1027.06 657.49,1027.06" fill="none" stroke="#7c2482" stroke-width="1.7" stroke-linejoin="miter"/>
<polygon points="676.09,997.16 665.69,1015.16 686.49,1015.16" fill="#fff"/><polygon points="669.16,1009.16 683.02,1009.16 686.49,1015.16 665.69,1015.16" fill="#7c2482"/><polygon points="676.09,997.16 665.69,1015.16 686.49,1015.16" fill="none" stroke="#7c2482" stroke-width="1.7" stroke-linejoin="miter"/>
<polygon points="705.1,986.94 694.7,1004.94 715.5,1004.94" fill="#fff"/><polygon points="698.16,998.94 712.03,998.94 715.5,1004.94 694.7,1004.94" fill="#7c2482"/><polygon points="705.1,986.94 694.7,1004.94 715.5,1004.94" fill="none" stroke="#7c2482" stroke-width="1.7" stroke-linejoin="miter"/>
<polygon points="734.1,979.07 723.7,997.07 744.5,997.07" fill="#fff"/><polygon points="727.17,991.07 741.03,991.07 744.5,997.07 723.7,997.07" fill="#7c2482"/><polygon points="734.1,979.07 723.7,997.07 744.5,997.07" fill="none" stroke="#7c2482" stroke-width="1.7" stroke-linejoin="miter"/>
<line x1="872" y1="37.8" x2="936" y2="37.8" stroke="#231f20" stroke-width="1.6"/>
<rect x="896.6" y="30.4" width="14.8" height="14.8" fill="#fff" stroke="#231f20" stroke-width="1.7"/>
<text y="48.4" class="tl"><tspan x="956.8" font-style="italic" font-size="31">U</tspan><tspan font-size="21" dx="-0.9" dy="7.6">sg</tspan><tspan x="1007.1" dy="-5.4">=</tspan><tspan x="1033.1" dy="-2.2">0.0552 m/s</tspan><tspan font-style="italic">, </tspan><tspan font-style="italic" font-size="31" dx="0.8">U</tspan><tspan font-size="21" dx="-1.9" dy="7.6">sl</tspan><tspan x="1239.6" dy="-5.4">=</tspan><tspan x="1264.4" dy="-2.2">0.0368 m/s</tspan><tspan fill="#3953a4">, slug flow</tspan></text>
<line x1="872" y1="84.38" x2="936" y2="84.38" stroke="#ed1c24" stroke-width="1.6"/>
<rect x="896.6" y="76.98" width="14.8" height="14.8" fill="#fff" stroke="#ed1c24" stroke-width="1.7"/>
<text y="94.98" class="tl"><tspan x="956.8" font-style="italic" font-size="31">U</tspan><tspan font-size="21" dx="-0.9" dy="7.6">sg</tspan><tspan x="1007.1" dy="-5.4">=</tspan><tspan x="1033.1" dy="-2.2">0.0552 m/s</tspan><tspan font-style="italic">, </tspan><tspan font-style="italic" font-size="31" dx="0.8">U</tspan><tspan font-size="21" dx="-1.9" dy="7.6">sl</tspan><tspan x="1239.6" dy="-5.4">=</tspan><tspan x="1264.4" dy="-2.2">0.0736 m/s</tspan><tspan fill="#3953a4">, slug flow</tspan></text>
<line x1="872" y1="130.96" x2="936" y2="130.96" stroke="#3a55a5" stroke-width="1.6"/>
<rect x="896.6" y="123.56" width="14.8" height="14.8" fill="#fff" stroke="#3a55a5" stroke-width="1.7"/>
<text y="141.56" class="tl"><tspan x="956.8" font-style="italic" font-size="31">U</tspan><tspan font-size="21" dx="-0.9" dy="7.6">sg</tspan><tspan x="1007.1" dy="-5.4">=</tspan><tspan x="1025.6" dy="-2.2">0.0552 m/s</tspan><tspan font-style="italic">, </tspan><tspan font-style="italic" font-size="31" dx="0.8">U</tspan><tspan font-size="21" dx="-1.9" dy="7.6">sl</tspan><tspan x="1228.8" dy="-5.4">=</tspan><tspan x="1253.6" dy="-2.2">0.1472 m/s</tspan><tspan fill="#3953a4">, slug flow</tspan></text>
<line x1="872" y1="177.54" x2="936" y2="177.54" stroke="#0e8584" stroke-width="1.6"/>
<rect x="896.6" y="170.14" width="14.8" height="14.8" fill="#fff" stroke="#0e8584" stroke-width="1.7"/>
<text y="188.14" class="tl"><tspan x="956.8" font-style="italic" font-size="31">U</tspan><tspan font-size="21" dx="-0.9" dy="7.6">sg</tspan><tspan x="1005.7" dy="-5.4">=</tspan><tspan x="1030.5" dy="-2.2">0.0552 m/s</tspan><tspan font-style="italic">, </tspan><tspan font-style="italic" font-size="31" dx="0.8">U</tspan><tspan font-size="21" dx="-1.9" dy="7.6">sl</tspan><tspan x="1235.1" dy="-5.4">=</tspan><tspan x="1259.9" dy="-2.2">0.2944 m/s</tspan><tspan fill="#3953a4">, slug flow</tspan></text>
<line x1="872" y1="224.12" x2="936" y2="224.12" stroke="#818132" stroke-width="1.6"/>
<polygon points="904,212.12 893.6,230.12 914.4,230.12" fill="#fff"/><polygon points="904,212.12 893.6,230.12 914.4,230.12" fill="none" stroke="#818132" stroke-width="1.7" stroke-linejoin="miter"/>
<text y="234.72" class="tl"><tspan x="956.8" font-style="italic" font-size="31">U</tspan><tspan font-size="21" dx="-0.9" dy="7.6">sg</tspan><tspan x="1005.7" dy="-5.4">=</tspan><tspan x="1030.5" dy="-2.2">0.4416 m/s</tspan><tspan font-style="italic">, </tspan><tspan font-style="italic" font-size="31" dx="0.8">U</tspan><tspan font-size="21" dx="-1.9" dy="7.6">sl</tspan><tspan x="1235.1" dy="-5.4">=</tspan><tspan x="1259.9" dy="-2.2">0.8832 m/s</tspan><tspan fill="#808035">, churn flow</tspan></text>
<line x1="872" y1="270.7" x2="936" y2="270.7" stroke="#818132" stroke-width="1.6"/>
<polygon points="904,258.7 893.6,276.7 914.4,276.7" fill="#fff"/><polygon points="904,258.7 893.6,276.7 904,276.7" fill="#818132"/><polygon points="904,258.7 893.6,276.7 914.4,276.7" fill="none" stroke="#818132" stroke-width="1.7" stroke-linejoin="miter"/>
<text y="281.3" class="tl"><tspan x="956.8" font-style="italic" font-size="31">U</tspan><tspan font-size="21" dx="-0.9" dy="7.6">sg</tspan><tspan x="1005.7" dy="-5.4">=</tspan><tspan x="1030.5" dy="-2.2">0.5888 m/s</tspan><tspan font-style="italic">, </tspan><tspan font-style="italic" font-size="31" dx="0.8">U</tspan><tspan font-size="21" dx="-1.9" dy="7.6">sl</tspan><tspan x="1235.1" dy="-5.4">=</tspan><tspan x="1259.9" dy="-2.2">0.8832 m/s</tspan><tspan fill="#808035">, churn flow</tspan></text>
<line x1="872" y1="317.28" x2="936" y2="317.28" stroke="#818132" stroke-width="1.6"/>
<polygon points="904,305.28 893.6,323.28 914.4,323.28" fill="#fff"/><polygon points="904,305.28 904,323.28 914.4,323.28" fill="#818132"/><polygon points="904,305.28 893.6,323.28 914.4,323.28" fill="none" stroke="#818132" stroke-width="1.7" stroke-linejoin="miter"/>
<text y="327.88" class="tl"><tspan x="956.8" font-style="italic" font-size="31">U</tspan><tspan font-size="21" dx="-0.9" dy="7.6">sg</tspan><tspan x="1005.7" dy="-5.4">=</tspan><tspan x="1030.5" dy="-2.2">0.5888 m/s</tspan><tspan font-style="italic">, </tspan><tspan font-style="italic" font-size="31" dx="0.8">U</tspan><tspan font-size="21" dx="-1.9" dy="7.6">sl</tspan><tspan x="1235.1" dy="-5.4">=</tspan><tspan x="1259.9" dy="-2.2">1.0304 m/s</tspan><tspan fill="#808035">, churn flow</tspan></text>
<line x1="872" y1="363.86" x2="936" y2="363.86" stroke="#88141a" stroke-width="1.6"/>
<circle cx="904" cy="363.86" r="8.8" fill="#fff" stroke="#88141a" stroke-width="1.7"/>
<text y="374.46" class="tl"><tspan x="956.8" font-style="italic" font-size="31">U</tspan><tspan font-size="21" dx="-0.9" dy="7.6">sg</tspan><tspan x="1005.7" dy="-5.4">=</tspan><tspan x="1030.5" dy="-2.2">0.0552 m/s</tspan><tspan font-style="italic">, </tspan><tspan font-style="italic" font-size="31" dx="0.8">U</tspan><tspan font-size="21" dx="-1.9" dy="7.6">sl</tspan><tspan x="1235.1" dy="-5.4">=</tspan><tspan x="1259.9" dy="-2.2">0.8832 m/s</tspan><tspan fill="#85161b">, bubble flow</tspan></text>
<line x1="872" y1="410.44" x2="936" y2="410.44" stroke="#252e86" stroke-width="1.6"/>
<circle cx="904" cy="410.44" r="8.8" fill="#fff" stroke="#252e86" stroke-width="1.7"/>
<text y="421.04" class="tl"><tspan x="956.8" font-style="italic" font-size="31">U</tspan><tspan font-size="21" dx="-0.9" dy="7.6">sg</tspan><tspan x="1005.7" dy="-5.4">=</tspan><tspan x="1030.5" dy="-2.2">0.0552 m/s</tspan><tspan font-style="italic">, </tspan><tspan font-style="italic" font-size="31" dx="0.8">U</tspan><tspan font-size="21" dx="-1.9" dy="7.6">sl</tspan><tspan x="1235.1" dy="-5.4">=</tspan><tspan x="1259.9" dy="-2.2">1.0304 m/s</tspan><tspan fill="#85161b">, bubble flow</tspan></text>
<line x1="872" y1="457.02" x2="936" y2="457.02" stroke="#6b55b2" stroke-width="1.6"/>
<circle cx="904" cy="457.02" r="8.8" fill="#fff" stroke="#6b55b2" stroke-width="1.7"/>
<text y="467.62" class="tl"><tspan x="956.8" font-style="italic" font-size="31">U</tspan><tspan font-size="21" dx="-0.9" dy="7.6">sg</tspan><tspan x="1005.7" dy="-5.4">=</tspan><tspan x="1030.5" dy="-2.2">0.0552 m/s</tspan><tspan font-style="italic">, </tspan><tspan font-style="italic" font-size="31" dx="0.8">U</tspan><tspan font-size="21" dx="-1.9" dy="7.6">sl</tspan><tspan x="1235.1" dy="-5.4">=</tspan><tspan x="1259.9" dy="-2.2">1.1776 m/s</tspan><tspan fill="#85161b">, bubble flow</tspan></text>
<line x1="861.5" y1="813.1" x2="926" y2="813.1" stroke="#231f20" stroke-width="1.6"/>
<rect x="886.35" y="805.7" width="14.8" height="14.8" fill="#fff" stroke="#231f20" stroke-width="1.7"/>
<text y="823.7" class="tl"><tspan x="946.4" font-style="italic" font-size="31">U</tspan><tspan font-size="21" dx="-0.9" dy="7.6">sg</tspan><tspan x="995.3" dy="-5.4">=</tspan><tspan x="1020.1" dy="-2.2">0.1472 m/s</tspan><tspan font-style="italic">, </tspan><tspan font-style="italic" font-size="31" dx="0.8">U</tspan><tspan font-size="21" dx="-1.9" dy="7.6">sl</tspan><tspan x="1224.7" dy="-5.4">=</tspan><tspan x="1249.5" dy="-2.2">0.0368 m/s</tspan><tspan fill="#3953a4">, slug flow</tspan></text>
<line x1="861.5" y1="859.7" x2="926" y2="859.7" stroke="#ed1c24" stroke-width="1.6"/>
<rect x="886.35" y="852.3" width="14.8" height="14.8" fill="#fff" stroke="#ed1c24" stroke-width="1.7"/>
<text y="870.3" class="tl"><tspan x="946.4" font-style="italic" font-size="31">U</tspan><tspan font-size="21" dx="-0.9" dy="7.6">sg</tspan><tspan x="995.3" dy="-5.4">=</tspan><tspan x="1020.1" dy="-2.2">0.1472 m/s</tspan><tspan font-style="italic">, </tspan><tspan font-style="italic" font-size="31" dx="0.8">U</tspan><tspan font-size="21" dx="-1.9" dy="7.6">sl</tspan><tspan x="1224.7" dy="-5.4">=</tspan><tspan x="1249.5" dy="-2.2">0.0736 m/s</tspan><tspan fill="#3953a4">, slug flow</tspan></text>
<line x1="861.5" y1="906.3" x2="926" y2="906.3" stroke="#3a55a5" stroke-width="1.6"/>
<rect x="886.35" y="898.9" width="14.8" height="14.8" fill="#fff" stroke="#3a55a5" stroke-width="1.7"/>
<text y="916.9" class="tl"><tspan x="946.4" font-style="italic" font-size="31">U</tspan><tspan font-size="21" dx="-0.9" dy="7.6">sg</tspan><tspan x="995.3" dy="-5.4">=</tspan><tspan x="1020.1" dy="-2.2">0.1472 m/s</tspan><tspan font-style="italic">, </tspan><tspan font-style="italic" font-size="31" dx="0.8">U</tspan><tspan font-size="21" dx="-1.9" dy="7.6">sl</tspan><tspan x="1224.7" dy="-5.4">=</tspan><tspan x="1249.5" dy="-2.2">0.1472 m/s</tspan><tspan fill="#3953a4">, slug flow</tspan></text>
<line x1="861.5" y1="952.9" x2="926" y2="952.9" stroke="#0e8584" stroke-width="1.6"/>
<rect x="886.35" y="945.5" width="14.8" height="14.8" fill="#fff" stroke="#0e8584" stroke-width="1.7"/>
<text y="963.5" class="tl"><tspan x="946.4" font-style="italic" font-size="31">U</tspan><tspan font-size="21" dx="-0.9" dy="7.6">sg</tspan><tspan x="995.3" dy="-5.4">=</tspan><tspan x="1020.1" dy="-2.2">0.1472 m/s</tspan><tspan font-style="italic">, </tspan><tspan font-style="italic" font-size="31" dx="0.8">U</tspan><tspan font-size="21" dx="-1.9" dy="7.6">sl</tspan><tspan x="1224.7" dy="-5.4">=</tspan><tspan x="1249.5" dy="-2.2">0.2944 m/s</tspan><tspan fill="#3953a4">, slug flow</tspan></text>
<line x1="861.5" y1="999.5" x2="926" y2="999.5" stroke="#a2a3a6" stroke-width="1.6"/>
<rect x="886.35" y="992.1" width="14.8" height="14.8" fill="#fff" stroke="#a2a3a6" stroke-width="1.7"/>
<text y="1010.1" class="tl"><tspan x="946.4" font-style="italic" font-size="31">U</tspan><tspan font-size="21" dx="-0.9" dy="7.6">sg</tspan><tspan x="995.3" dy="-5.4">=</tspan><tspan x="1020.1" dy="-2.2">0.1472 m/s</tspan><tspan font-style="italic">, </tspan><tspan font-style="italic" font-size="31" dx="0.8">U</tspan><tspan font-size="21" dx="-1.9" dy="7.6">sl</tspan><tspan x="1224.7" dy="-5.4">=</tspan><tspan x="1249.5" dy="-2.2">0.5888 m/s</tspan><tspan fill="#3953a4">, slug flow</tspan></text>
<line x1="861.5" y1="1046.1" x2="926" y2="1046.1" stroke="#818132" stroke-width="1.6"/>
<polygon points="893.75,1034.1 883.35,1052.1 904.15,1052.1" fill="#fff"/><polygon points="893.75,1034.1 893.75,1052.1 904.15,1052.1" fill="#818132"/><polygon points="893.75,1034.1 883.35,1052.1 904.15,1052.1" fill="none" stroke="#818132" stroke-width="1.7" stroke-linejoin="miter"/>
<text y="1056.7" class="tl"><tspan x="946.4" font-style="italic" font-size="31">U</tspan><tspan font-size="21" dx="-0.9" dy="7.6">sg</tspan><tspan x="995.3" dy="-5.4">=</tspan><tspan x="1020.1" dy="-2.2">0.5888 m/s</tspan><tspan font-style="italic">, </tspan><tspan font-style="italic" font-size="31" dx="0.8">U</tspan><tspan font-size="21" dx="-1.9" dy="7.6">sl</tspan><tspan x="1224.7" dy="-5.4">=</tspan><tspan x="1249.5" dy="-2.2">1.0304 m/s</tspan><tspan fill="#808035">, churn flow</tspan></text>
<line x1="861.5" y1="1092.7" x2="926" y2="1092.7" stroke="#7c2482" stroke-width="1.6"/>
<polygon points="893.75,1080.7 883.35,1098.7 904.15,1098.7" fill="#fff"/><polygon points="886.82,1092.7 900.68,1092.7 904.15,1098.7 883.35,1098.7" fill="#7c2482"/><polygon points="893.75,1080.7 883.35,1098.7 904.15,1098.7" fill="none" stroke="#7c2482" stroke-width="1.7" stroke-linejoin="miter"/>
<text y="1103.3" class="tl"><tspan x="946.4" font-style="italic" font-size="31">U</tspan><tspan font-size="21" dx="-0.9" dy="7.6">sg</tspan><tspan x="995.3" dy="-5.4">=</tspan><tspan x="1020.1" dy="-2.2">0.1472 m/s</tspan><tspan font-style="italic">, </tspan><tspan font-style="italic" font-size="31" dx="0.8">U</tspan><tspan font-size="21" dx="-1.9" dy="7.6">sl</tspan><tspan x="1224.7" dy="-5.4">=</tspan><tspan x="1249.5" dy="-2.2">0.8832 m/s</tspan><tspan fill="#7a2380">, churn-bubble</tspan></text>
<text x="1418.5" y="1140.9" class="tl" style="fill:#7a2380">transitional flow</text>
<line x1="861.5" y1="1177.4" x2="926" y2="1177.4" stroke="#7c2482" stroke-width="1.6"/>
<polygon points="893.75,1165.4 883.35,1183.4 904.15,1183.4" fill="#fff"/><polygon points="893.75,1165.4 900.68,1177.4 886.82,1177.4" fill="#7c2482"/><polygon points="893.75,1165.4 883.35,1183.4 904.15,1183.4" fill="none" stroke="#7c2482" stroke-width="1.7" stroke-linejoin="miter"/>
<text y="1188" class="tl"><tspan x="946.4" font-style="italic" font-size="31">U</tspan><tspan font-size="21" dx="-0.9" dy="7.6">sg</tspan><tspan x="995.3" dy="-5.4">=</tspan><tspan x="1020.1" dy="-2.2">0.2944 m/s</tspan><tspan font-style="italic">, </tspan><tspan font-style="italic" font-size="31" dx="0.8">U</tspan><tspan font-size="21" dx="-1.9" dy="7.6">sl</tspan><tspan x="1224.7" dy="-5.4">=</tspan><tspan x="1249.5" dy="-2.2">1.0304 m/s</tspan><tspan fill="#7a2380">, churn-bubble</tspan></text>
<text x="1418.5" y="1225.6" class="tl" style="fill:#7a2380">transitional flow</text>
<line x1="861.5" y1="1262.4" x2="926" y2="1262.4" stroke="#88141a" stroke-width="1.6"/>
<circle cx="893.75" cy="1262.4" r="8.8" fill="#fff" stroke="#88141a" stroke-width="1.7"/>
<text y="1273" class="tl"><tspan x="946.4" font-style="italic" font-size="31">U</tspan><tspan font-size="21" dx="-0.9" dy="7.6">sg</tspan><tspan x="995.3" dy="-5.4">=</tspan><tspan x="1020.1" dy="-2.2">0.1472 m/s</tspan><tspan font-style="italic">, </tspan><tspan font-style="italic" font-size="31" dx="0.8">U</tspan><tspan font-size="21" dx="-1.9" dy="7.6">sl</tspan><tspan x="1224.7" dy="-5.4">=</tspan><tspan x="1249.5" dy="-2.2">1.0304 m/s</tspan><tspan fill="#85161b">, bubble flow</tspan></text>
<line x1="861.5" y1="1308.9" x2="926" y2="1308.9" stroke="#232e93" stroke-width="1.6"/>
<circle cx="893.75" cy="1308.9" r="8.8" fill="#fff" stroke="#232e93" stroke-width="1.7"/>
<text y="1319.5" class="tl"><tspan x="946.4" font-style="italic" font-size="31">U</tspan><tspan font-size="21" dx="-0.9" dy="7.6">sg</tspan><tspan x="995.3" dy="-5.4">=</tspan><tspan x="1020.1" dy="-2.2">0.1472 m/s</tspan><tspan font-style="italic">, </tspan><tspan font-style="italic" font-size="31" dx="0.8">U</tspan><tspan font-size="21" dx="-1.9" dy="7.6">sl</tspan><tspan x="1224.7" dy="-5.4">=</tspan><tspan x="1249.5" dy="-2.2">1.1776 m/s</tspan><tspan fill="#85161b">, bubble flow</tspan></text>
</svg>
</body></html>
